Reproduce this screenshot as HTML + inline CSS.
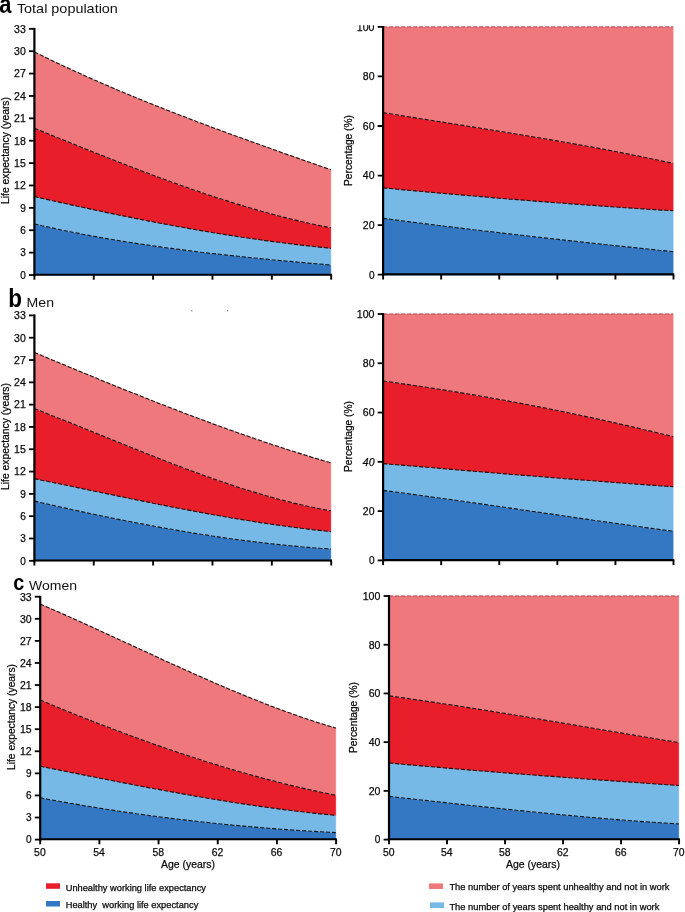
<!DOCTYPE html>
<html lang="en"><head><meta charset="utf-8"><title>Working life expectancy</title>
<style>html,body{margin:0;padding:0;background:#fff}svg{display:block}</style></head><body>
<svg width="685" height="912" viewBox="0 0 685 912">
<rect width="685" height="912" fill="#fff"/>
<polygon points="34.4,224.0 38.1,224.8 41.8,225.7 45.5,226.5 49.2,227.3 52.9,228.1 56.6,228.9 60.3,229.7 64.0,230.5 67.8,231.2 71.5,232.0 75.2,232.7 78.9,233.4 82.6,234.2 86.3,234.9 90.0,235.6 93.7,236.2 97.4,236.9 101.1,237.6 104.8,238.2 108.5,238.9 112.2,239.5 115.9,240.1 119.6,240.7 123.4,241.4 127.1,242.0 130.8,242.5 134.5,243.1 138.2,243.7 141.9,244.2 145.6,244.8 149.3,245.3 153.0,245.9 156.7,246.4 160.4,246.9 164.1,247.4 167.8,248.0 171.5,248.4 175.2,248.9 178.9,249.4 182.7,249.9 186.4,250.4 190.1,250.8 193.8,251.3 197.5,251.7 201.2,252.2 204.9,252.6 208.6,253.1 212.3,253.5 216.0,253.9 219.7,254.3 223.4,254.7 227.1,255.1 230.8,255.5 234.5,255.9 238.2,256.3 242.0,256.7 245.7,257.1 249.4,257.5 253.1,257.9 256.8,258.2 260.5,258.6 264.2,259.0 267.9,259.3 271.6,259.7 275.3,260.0 279.0,260.4 282.7,260.7 286.4,261.1 290.1,261.4 293.8,261.7 297.5,262.1 301.2,262.4 305.0,262.7 308.7,263.1 312.4,263.4 316.1,263.7 319.8,264.0 323.5,264.4 327.2,264.7 330.9,265.0 330.9,275.0 327.2,275.0 323.5,275.0 319.8,275.0 316.1,275.0 312.4,275.0 308.7,275.0 305.0,275.0 301.2,275.0 297.5,275.0 293.8,275.0 290.1,275.0 286.4,275.0 282.7,275.0 279.0,275.0 275.3,275.0 271.6,275.0 267.9,275.0 264.2,275.0 260.5,275.0 256.8,275.0 253.1,275.0 249.4,275.0 245.7,275.0 242.0,275.0 238.2,275.0 234.5,275.0 230.8,275.0 227.1,275.0 223.4,275.0 219.7,275.0 216.0,275.0 212.3,275.0 208.6,275.0 204.9,275.0 201.2,275.0 197.5,275.0 193.8,275.0 190.1,275.0 186.4,275.0 182.7,275.0 178.9,275.0 175.2,275.0 171.5,275.0 167.8,275.0 164.1,275.0 160.4,275.0 156.7,275.0 153.0,275.0 149.3,275.0 145.6,275.0 141.9,275.0 138.2,275.0 134.5,275.0 130.8,275.0 127.1,275.0 123.4,275.0 119.6,275.0 115.9,275.0 112.2,275.0 108.5,275.0 104.8,275.0 101.1,275.0 97.4,275.0 93.7,275.0 90.0,275.0 86.3,275.0 82.6,275.0 78.9,275.0 75.2,275.0 71.5,275.0 67.8,275.0 64.0,275.0 60.3,275.0 56.6,275.0 52.9,275.0 49.2,275.0 45.5,275.0 41.8,275.0 38.1,275.0 34.4,275.0" fill="#3478C3" stroke="#3478C3" stroke-width="0.4"/>
<polygon points="34.4,196.5 38.1,197.4 41.8,198.2 45.5,199.1 49.2,199.9 52.9,200.8 56.6,201.6 60.3,202.4 64.0,203.2 67.8,204.1 71.5,204.9 75.2,205.7 78.9,206.5 82.6,207.3 86.3,208.1 90.0,208.9 93.7,209.7 97.4,210.5 101.1,211.3 104.8,212.1 108.5,212.9 112.2,213.6 115.9,214.4 119.6,215.2 123.4,215.9 127.1,216.7 130.8,217.4 134.5,218.2 138.2,218.9 141.9,219.6 145.6,220.4 149.3,221.1 153.0,221.8 156.7,222.5 160.4,223.2 164.1,223.9 167.8,224.6 171.5,225.3 175.2,226.0 178.9,226.7 182.7,227.3 186.4,228.0 190.1,228.7 193.8,229.3 197.5,230.0 201.2,230.6 204.9,231.2 208.6,231.8 212.3,232.5 216.0,233.1 219.7,233.7 223.4,234.3 227.1,234.9 230.8,235.4 234.5,236.0 238.2,236.6 242.0,237.2 245.7,237.7 249.4,238.3 253.1,238.8 256.8,239.3 260.5,239.8 264.2,240.4 267.9,240.9 271.6,241.4 275.3,241.9 279.0,242.3 282.7,242.8 286.4,243.3 290.1,243.7 293.8,244.2 297.5,244.6 301.2,245.1 305.0,245.5 308.7,245.9 312.4,246.3 316.1,246.7 319.8,247.1 323.5,247.5 327.2,247.9 330.9,248.2 330.9,265.0 327.2,264.7 323.5,264.4 319.8,264.0 316.1,263.7 312.4,263.4 308.7,263.1 305.0,262.7 301.2,262.4 297.5,262.1 293.8,261.7 290.1,261.4 286.4,261.1 282.7,260.7 279.0,260.4 275.3,260.0 271.6,259.7 267.9,259.3 264.2,259.0 260.5,258.6 256.8,258.2 253.1,257.9 249.4,257.5 245.7,257.1 242.0,256.7 238.2,256.3 234.5,255.9 230.8,255.5 227.1,255.1 223.4,254.7 219.7,254.3 216.0,253.9 212.3,253.5 208.6,253.1 204.9,252.6 201.2,252.2 197.5,251.7 193.8,251.3 190.1,250.8 186.4,250.4 182.7,249.9 178.9,249.4 175.2,248.9 171.5,248.4 167.8,248.0 164.1,247.4 160.4,246.9 156.7,246.4 153.0,245.9 149.3,245.3 145.6,244.8 141.9,244.2 138.2,243.7 134.5,243.1 130.8,242.5 127.1,242.0 123.4,241.4 119.6,240.7 115.9,240.1 112.2,239.5 108.5,238.9 104.8,238.2 101.1,237.6 97.4,236.9 93.7,236.2 90.0,235.6 86.3,234.9 82.6,234.2 78.9,233.4 75.2,232.7 71.5,232.0 67.8,231.2 64.0,230.5 60.3,229.7 56.6,228.9 52.9,228.1 49.2,227.3 45.5,226.5 41.8,225.7 38.1,224.8 34.4,224.0" fill="#76B9E7" stroke="#76B9E7" stroke-width="0.4"/>
<polygon points="34.4,128.3 38.1,129.8 41.8,131.3 45.5,132.8 49.2,134.3 52.9,135.8 56.6,137.3 60.3,138.8 64.0,140.3 67.8,141.8 71.5,143.3 75.2,144.8 78.9,146.3 82.6,147.7 86.3,149.2 90.0,150.7 93.7,152.2 97.4,153.7 101.1,155.1 104.8,156.6 108.5,158.1 112.2,159.5 115.9,161.0 119.6,162.4 123.4,163.9 127.1,165.3 130.8,166.7 134.5,168.2 138.2,169.6 141.9,171.0 145.6,172.4 149.3,173.8 153.0,175.2 156.7,176.6 160.4,177.9 164.1,179.3 167.8,180.6 171.5,182.0 175.2,183.3 178.9,184.7 182.7,186.0 186.4,187.3 190.1,188.6 193.8,189.9 197.5,191.1 201.2,192.4 204.9,193.7 208.6,194.9 212.3,196.1 216.0,197.4 219.7,198.6 223.4,199.8 227.1,200.9 230.8,202.1 234.5,203.3 238.2,204.4 242.0,205.5 245.7,206.7 249.4,207.7 253.1,208.8 256.8,209.9 260.5,211.0 264.2,212.0 267.9,213.0 271.6,214.0 275.3,215.0 279.0,216.0 282.7,217.0 286.4,217.9 290.1,218.8 293.8,219.7 297.5,220.6 301.2,221.5 305.0,222.3 308.7,223.2 312.4,224.0 316.1,224.8 319.8,225.6 323.5,226.3 327.2,227.1 330.9,227.8 330.9,248.2 327.2,247.9 323.5,247.5 319.8,247.1 316.1,246.7 312.4,246.3 308.7,245.9 305.0,245.5 301.2,245.1 297.5,244.6 293.8,244.2 290.1,243.7 286.4,243.3 282.7,242.8 279.0,242.3 275.3,241.9 271.6,241.4 267.9,240.9 264.2,240.4 260.5,239.8 256.8,239.3 253.1,238.8 249.4,238.3 245.7,237.7 242.0,237.2 238.2,236.6 234.5,236.0 230.8,235.4 227.1,234.9 223.4,234.3 219.7,233.7 216.0,233.1 212.3,232.5 208.6,231.8 204.9,231.2 201.2,230.6 197.5,230.0 193.8,229.3 190.1,228.7 186.4,228.0 182.7,227.3 178.9,226.7 175.2,226.0 171.5,225.3 167.8,224.6 164.1,223.9 160.4,223.2 156.7,222.5 153.0,221.8 149.3,221.1 145.6,220.4 141.9,219.6 138.2,218.9 134.5,218.2 130.8,217.4 127.1,216.7 123.4,215.9 119.6,215.2 115.9,214.4 112.2,213.6 108.5,212.9 104.8,212.1 101.1,211.3 97.4,210.5 93.7,209.7 90.0,208.9 86.3,208.1 82.6,207.3 78.9,206.5 75.2,205.7 71.5,204.9 67.8,204.1 64.0,203.2 60.3,202.4 56.6,201.6 52.9,200.8 49.2,199.9 45.5,199.1 41.8,198.2 38.1,197.4 34.4,196.5" fill="#E81E2B" stroke="#E81E2B" stroke-width="0.4"/>
<polygon points="34.4,52.0 38.1,53.8 41.8,55.6 45.5,57.4 49.2,59.2 52.9,61.0 56.6,62.7 60.3,64.5 64.0,66.2 67.8,67.9 71.5,69.7 75.2,71.4 78.9,73.0 82.6,74.7 86.3,76.4 90.0,78.0 93.7,79.7 97.4,81.3 101.1,82.9 104.8,84.5 108.5,86.1 112.2,87.7 115.9,89.3 119.6,90.9 123.4,92.4 127.1,94.0 130.8,95.5 134.5,97.1 138.2,98.6 141.9,100.1 145.6,101.6 149.3,103.1 153.0,104.6 156.7,106.1 160.4,107.5 164.1,109.0 167.8,110.4 171.5,111.9 175.2,113.3 178.9,114.8 182.7,116.2 186.4,117.6 190.1,119.0 193.8,120.4 197.5,121.9 201.2,123.2 204.9,124.6 208.6,126.0 212.3,127.4 216.0,128.8 219.7,130.1 223.4,131.5 227.1,132.9 230.8,134.2 234.5,135.6 238.2,136.9 242.0,138.3 245.7,139.6 249.4,141.0 253.1,142.3 256.8,143.6 260.5,144.9 264.2,146.3 267.9,147.6 271.6,148.9 275.3,150.2 279.0,151.5 282.7,152.9 286.4,154.2 290.1,155.5 293.8,156.8 297.5,158.1 301.2,159.4 305.0,160.7 308.7,162.0 312.4,163.3 316.1,164.6 319.8,165.9 323.5,167.2 327.2,168.5 330.9,169.8 330.9,227.8 327.2,227.1 323.5,226.3 319.8,225.6 316.1,224.8 312.4,224.0 308.7,223.2 305.0,222.3 301.2,221.5 297.5,220.6 293.8,219.7 290.1,218.8 286.4,217.9 282.7,217.0 279.0,216.0 275.3,215.0 271.6,214.0 267.9,213.0 264.2,212.0 260.5,211.0 256.8,209.9 253.1,208.8 249.4,207.7 245.7,206.7 242.0,205.5 238.2,204.4 234.5,203.3 230.8,202.1 227.1,200.9 223.4,199.8 219.7,198.6 216.0,197.4 212.3,196.1 208.6,194.9 204.9,193.7 201.2,192.4 197.5,191.1 193.8,189.9 190.1,188.6 186.4,187.3 182.7,186.0 178.9,184.7 175.2,183.3 171.5,182.0 167.8,180.6 164.1,179.3 160.4,177.9 156.7,176.6 153.0,175.2 149.3,173.8 145.6,172.4 141.9,171.0 138.2,169.6 134.5,168.2 130.8,166.7 127.1,165.3 123.4,163.9 119.6,162.4 115.9,161.0 112.2,159.5 108.5,158.1 104.8,156.6 101.1,155.1 97.4,153.7 93.7,152.2 90.0,150.7 86.3,149.2 82.6,147.7 78.9,146.3 75.2,144.8 71.5,143.3 67.8,141.8 64.0,140.3 60.3,138.8 56.6,137.3 52.9,135.8 49.2,134.3 45.5,132.8 41.8,131.3 38.1,129.8 34.4,128.3" fill="#EF787D" stroke="#EF787D" stroke-width="0.4"/>
<polyline points="34.4,224.0 38.1,224.8 41.8,225.7 45.5,226.5 49.2,227.3 52.9,228.1 56.6,228.9 60.3,229.7 64.0,230.5 67.8,231.2 71.5,232.0 75.2,232.7 78.9,233.4 82.6,234.2 86.3,234.9 90.0,235.6 93.7,236.2 97.4,236.9 101.1,237.6 104.8,238.2 108.5,238.9 112.2,239.5 115.9,240.1 119.6,240.7 123.4,241.4 127.1,242.0 130.8,242.5 134.5,243.1 138.2,243.7 141.9,244.2 145.6,244.8 149.3,245.3 153.0,245.9 156.7,246.4 160.4,246.9 164.1,247.4 167.8,248.0 171.5,248.4 175.2,248.9 178.9,249.4 182.7,249.9 186.4,250.4 190.1,250.8 193.8,251.3 197.5,251.7 201.2,252.2 204.9,252.6 208.6,253.1 212.3,253.5 216.0,253.9 219.7,254.3 223.4,254.7 227.1,255.1 230.8,255.5 234.5,255.9 238.2,256.3 242.0,256.7 245.7,257.1 249.4,257.5 253.1,257.9 256.8,258.2 260.5,258.6 264.2,259.0 267.9,259.3 271.6,259.7 275.3,260.0 279.0,260.4 282.7,260.7 286.4,261.1 290.1,261.4 293.8,261.7 297.5,262.1 301.2,262.4 305.0,262.7 308.7,263.1 312.4,263.4 316.1,263.7 319.8,264.0 323.5,264.4 327.2,264.7 330.9,265.0" fill="none" stroke="#111" stroke-width="1.1" stroke-dasharray="4.2 1.8"/>
<polyline points="34.4,196.5 38.1,197.4 41.8,198.2 45.5,199.1 49.2,199.9 52.9,200.8 56.6,201.6 60.3,202.4 64.0,203.2 67.8,204.1 71.5,204.9 75.2,205.7 78.9,206.5 82.6,207.3 86.3,208.1 90.0,208.9 93.7,209.7 97.4,210.5 101.1,211.3 104.8,212.1 108.5,212.9 112.2,213.6 115.9,214.4 119.6,215.2 123.4,215.9 127.1,216.7 130.8,217.4 134.5,218.2 138.2,218.9 141.9,219.6 145.6,220.4 149.3,221.1 153.0,221.8 156.7,222.5 160.4,223.2 164.1,223.9 167.8,224.6 171.5,225.3 175.2,226.0 178.9,226.7 182.7,227.3 186.4,228.0 190.1,228.7 193.8,229.3 197.5,230.0 201.2,230.6 204.9,231.2 208.6,231.8 212.3,232.5 216.0,233.1 219.7,233.7 223.4,234.3 227.1,234.9 230.8,235.4 234.5,236.0 238.2,236.6 242.0,237.2 245.7,237.7 249.4,238.3 253.1,238.8 256.8,239.3 260.5,239.8 264.2,240.4 267.9,240.9 271.6,241.4 275.3,241.9 279.0,242.3 282.7,242.8 286.4,243.3 290.1,243.7 293.8,244.2 297.5,244.6 301.2,245.1 305.0,245.5 308.7,245.9 312.4,246.3 316.1,246.7 319.8,247.1 323.5,247.5 327.2,247.9 330.9,248.2" fill="none" stroke="#111" stroke-width="1.1" stroke-dasharray="4.2 1.8"/>
<polyline points="34.4,128.3 38.1,129.8 41.8,131.3 45.5,132.8 49.2,134.3 52.9,135.8 56.6,137.3 60.3,138.8 64.0,140.3 67.8,141.8 71.5,143.3 75.2,144.8 78.9,146.3 82.6,147.7 86.3,149.2 90.0,150.7 93.7,152.2 97.4,153.7 101.1,155.1 104.8,156.6 108.5,158.1 112.2,159.5 115.9,161.0 119.6,162.4 123.4,163.9 127.1,165.3 130.8,166.7 134.5,168.2 138.2,169.6 141.9,171.0 145.6,172.4 149.3,173.8 153.0,175.2 156.7,176.6 160.4,177.9 164.1,179.3 167.8,180.6 171.5,182.0 175.2,183.3 178.9,184.7 182.7,186.0 186.4,187.3 190.1,188.6 193.8,189.9 197.5,191.1 201.2,192.4 204.9,193.7 208.6,194.9 212.3,196.1 216.0,197.4 219.7,198.6 223.4,199.8 227.1,200.9 230.8,202.1 234.5,203.3 238.2,204.4 242.0,205.5 245.7,206.7 249.4,207.7 253.1,208.8 256.8,209.9 260.5,211.0 264.2,212.0 267.9,213.0 271.6,214.0 275.3,215.0 279.0,216.0 282.7,217.0 286.4,217.9 290.1,218.8 293.8,219.7 297.5,220.6 301.2,221.5 305.0,222.3 308.7,223.2 312.4,224.0 316.1,224.8 319.8,225.6 323.5,226.3 327.2,227.1 330.9,227.8" fill="none" stroke="#111" stroke-width="1.1" stroke-dasharray="4.2 1.8"/>
<polyline points="34.4,52.0 38.1,53.8 41.8,55.6 45.5,57.4 49.2,59.2 52.9,61.0 56.6,62.7 60.3,64.5 64.0,66.2 67.8,67.9 71.5,69.7 75.2,71.4 78.9,73.0 82.6,74.7 86.3,76.4 90.0,78.0 93.7,79.7 97.4,81.3 101.1,82.9 104.8,84.5 108.5,86.1 112.2,87.7 115.9,89.3 119.6,90.9 123.4,92.4 127.1,94.0 130.8,95.5 134.5,97.1 138.2,98.6 141.9,100.1 145.6,101.6 149.3,103.1 153.0,104.6 156.7,106.1 160.4,107.5 164.1,109.0 167.8,110.4 171.5,111.9 175.2,113.3 178.9,114.8 182.7,116.2 186.4,117.6 190.1,119.0 193.8,120.4 197.5,121.9 201.2,123.2 204.9,124.6 208.6,126.0 212.3,127.4 216.0,128.8 219.7,130.1 223.4,131.5 227.1,132.9 230.8,134.2 234.5,135.6 238.2,136.9 242.0,138.3 245.7,139.6 249.4,141.0 253.1,142.3 256.8,143.6 260.5,144.9 264.2,146.3 267.9,147.6 271.6,148.9 275.3,150.2 279.0,151.5 282.7,152.9 286.4,154.2 290.1,155.5 293.8,156.8 297.5,158.1 301.2,159.4 305.0,160.7 308.7,162.0 312.4,163.3 316.1,164.6 319.8,165.9 323.5,167.2 327.2,168.5 330.9,169.8" fill="none" stroke="#111" stroke-width="1.1" stroke-dasharray="4.2 1.8"/>
<line x1="34.40" y1="27.92" x2="34.40" y2="276.30" stroke="#000" stroke-width="2.2"/>
<line x1="33.30" y1="274.70" x2="332.00" y2="274.70" stroke="#000" stroke-width="2.1"/>
<line x1="29.00" y1="275.00" x2="34.40" y2="275.00" stroke="#000" stroke-width="1.8"/>
<text x="25.80" y="278.85" text-anchor="end" font-size="10.8" font-family="Liberation Sans, sans-serif" textLength="5.6" lengthAdjust="spacingAndGlyphs" fill="#0a0a0a" stroke="#0a0a0a" stroke-width="0.25">0</text>
<line x1="29.00" y1="252.62" x2="34.40" y2="252.62" stroke="#000" stroke-width="1.8"/>
<text x="25.80" y="256.47" text-anchor="end" font-size="10.8" font-family="Liberation Sans, sans-serif" textLength="5.6" lengthAdjust="spacingAndGlyphs" fill="#0a0a0a" stroke="#0a0a0a" stroke-width="0.25">3</text>
<line x1="29.00" y1="230.24" x2="34.40" y2="230.24" stroke="#000" stroke-width="1.8"/>
<text x="25.80" y="234.09" text-anchor="end" font-size="10.8" font-family="Liberation Sans, sans-serif" textLength="5.6" lengthAdjust="spacingAndGlyphs" fill="#0a0a0a" stroke="#0a0a0a" stroke-width="0.25">6</text>
<line x1="29.00" y1="207.86" x2="34.40" y2="207.86" stroke="#000" stroke-width="1.8"/>
<text x="25.80" y="211.71" text-anchor="end" font-size="10.8" font-family="Liberation Sans, sans-serif" textLength="5.6" lengthAdjust="spacingAndGlyphs" fill="#0a0a0a" stroke="#0a0a0a" stroke-width="0.25">9</text>
<line x1="29.00" y1="185.48" x2="34.40" y2="185.48" stroke="#000" stroke-width="1.8"/>
<text x="25.80" y="189.33" text-anchor="end" font-size="10.8" font-family="Liberation Sans, sans-serif" textLength="11.7" lengthAdjust="spacingAndGlyphs" fill="#0a0a0a" stroke="#0a0a0a" stroke-width="0.25">12</text>
<line x1="29.00" y1="163.10" x2="34.40" y2="163.10" stroke="#000" stroke-width="1.8"/>
<text x="25.80" y="166.95" text-anchor="end" font-size="10.8" font-family="Liberation Sans, sans-serif" textLength="11.7" lengthAdjust="spacingAndGlyphs" fill="#0a0a0a" stroke="#0a0a0a" stroke-width="0.25">15</text>
<line x1="29.00" y1="140.72" x2="34.40" y2="140.72" stroke="#000" stroke-width="1.8"/>
<text x="25.80" y="144.57" text-anchor="end" font-size="10.8" font-family="Liberation Sans, sans-serif" textLength="11.7" lengthAdjust="spacingAndGlyphs" fill="#0a0a0a" stroke="#0a0a0a" stroke-width="0.25">18</text>
<line x1="29.00" y1="118.34" x2="34.40" y2="118.34" stroke="#000" stroke-width="1.8"/>
<text x="25.80" y="122.19" text-anchor="end" font-size="10.8" font-family="Liberation Sans, sans-serif" textLength="11.7" lengthAdjust="spacingAndGlyphs" fill="#0a0a0a" stroke="#0a0a0a" stroke-width="0.25">21</text>
<line x1="29.00" y1="95.96" x2="34.40" y2="95.96" stroke="#000" stroke-width="1.8"/>
<text x="25.80" y="99.81" text-anchor="end" font-size="10.8" font-family="Liberation Sans, sans-serif" textLength="11.7" lengthAdjust="spacingAndGlyphs" fill="#0a0a0a" stroke="#0a0a0a" stroke-width="0.25">24</text>
<line x1="29.00" y1="73.58" x2="34.40" y2="73.58" stroke="#000" stroke-width="1.8"/>
<text x="25.80" y="77.43" text-anchor="end" font-size="10.8" font-family="Liberation Sans, sans-serif" textLength="11.7" lengthAdjust="spacingAndGlyphs" fill="#0a0a0a" stroke="#0a0a0a" stroke-width="0.25">27</text>
<line x1="29.00" y1="51.20" x2="34.40" y2="51.20" stroke="#000" stroke-width="1.8"/>
<text x="25.80" y="55.05" text-anchor="end" font-size="10.8" font-family="Liberation Sans, sans-serif" textLength="11.7" lengthAdjust="spacingAndGlyphs" fill="#0a0a0a" stroke="#0a0a0a" stroke-width="0.25">30</text>
<line x1="29.00" y1="28.82" x2="34.40" y2="28.82" stroke="#000" stroke-width="1.8"/>
<text x="25.80" y="32.67" text-anchor="end" font-size="10.8" font-family="Liberation Sans, sans-serif" textLength="11.7" lengthAdjust="spacingAndGlyphs" fill="#0a0a0a" stroke="#0a0a0a" stroke-width="0.25">33</text>
<line x1="34.40" y1="275.00" x2="34.40" y2="279.70" stroke="#000" stroke-width="1.9"/>
<line x1="93.76" y1="275.00" x2="93.76" y2="279.70" stroke="#000" stroke-width="1.9"/>
<line x1="153.12" y1="275.00" x2="153.12" y2="279.70" stroke="#000" stroke-width="1.9"/>
<line x1="212.48" y1="275.00" x2="212.48" y2="279.70" stroke="#000" stroke-width="1.9"/>
<line x1="271.84" y1="275.00" x2="271.84" y2="279.70" stroke="#000" stroke-width="1.9"/>
<line x1="331.20" y1="275.00" x2="331.20" y2="279.70" stroke="#000" stroke-width="1.9"/>
<text transform="translate(9.2,150.50) rotate(-90)" text-anchor="middle" font-size="10.2" font-family="Liberation Sans, sans-serif" textLength="107" lengthAdjust="spacingAndGlyphs" fill="#0a0a0a" stroke="#0a0a0a" stroke-width="0.25">Life expectancy (years)</text>
<clipPath id="clipA"><rect x="340" y="25.3" width="345" height="300"/></clipPath>
<g clip-path="url(#clipA)">
<polygon points="383.1,218.4 386.7,218.8 390.4,219.3 394.0,219.8 397.6,220.2 401.2,220.7 404.9,221.2 408.5,221.6 412.1,222.1 415.7,222.5 419.4,223.0 423.0,223.5 426.6,223.9 430.2,224.4 433.9,224.8 437.5,225.3 441.1,225.7 444.7,226.2 448.4,226.6 452.0,227.0 455.6,227.5 459.3,227.9 462.9,228.4 466.5,228.8 470.1,229.2 473.8,229.7 477.4,230.1 481.0,230.5 484.6,231.0 488.3,231.4 491.9,231.8 495.5,232.2 499.1,232.7 502.8,233.1 506.4,233.5 510.0,233.9 513.6,234.4 517.3,234.8 520.9,235.2 524.5,235.6 528.2,236.0 531.8,236.4 535.4,236.9 539.0,237.3 542.7,237.7 546.3,238.1 549.9,238.5 553.5,238.9 557.2,239.3 560.8,239.7 564.4,240.1 568.0,240.5 571.7,240.9 575.3,241.3 578.9,241.7 582.5,242.1 586.2,242.5 589.8,242.9 593.4,243.3 597.0,243.7 600.7,244.1 604.3,244.5 607.9,244.8 611.6,245.2 615.2,245.6 618.8,246.0 622.4,246.4 626.1,246.8 629.7,247.1 633.3,247.5 636.9,247.9 640.6,248.3 644.2,248.7 647.8,249.0 651.4,249.4 655.1,249.8 658.7,250.2 662.3,250.5 665.9,250.9 669.6,251.3 673.2,251.7 673.2,274.7 669.6,274.7 665.9,274.7 662.3,274.7 658.7,274.7 655.1,274.7 651.4,274.7 647.8,274.7 644.2,274.7 640.6,274.7 636.9,274.7 633.3,274.7 629.7,274.7 626.1,274.7 622.4,274.7 618.8,274.7 615.2,274.7 611.6,274.7 607.9,274.7 604.3,274.7 600.7,274.7 597.0,274.7 593.4,274.7 589.8,274.7 586.2,274.7 582.5,274.7 578.9,274.7 575.3,274.7 571.7,274.7 568.0,274.7 564.4,274.7 560.8,274.7 557.2,274.7 553.5,274.7 549.9,274.7 546.3,274.7 542.7,274.7 539.0,274.7 535.4,274.7 531.8,274.7 528.2,274.7 524.5,274.7 520.9,274.7 517.3,274.7 513.6,274.7 510.0,274.7 506.4,274.7 502.8,274.7 499.1,274.7 495.5,274.7 491.9,274.7 488.3,274.7 484.6,274.7 481.0,274.7 477.4,274.7 473.8,274.7 470.1,274.7 466.5,274.7 462.9,274.7 459.3,274.7 455.6,274.7 452.0,274.7 448.4,274.7 444.7,274.7 441.1,274.7 437.5,274.7 433.9,274.7 430.2,274.7 426.6,274.7 423.0,274.7 419.4,274.7 415.7,274.7 412.1,274.7 408.5,274.7 404.9,274.7 401.2,274.7 397.6,274.7 394.0,274.7 390.4,274.7 386.7,274.7 383.1,274.7" fill="#3478C3" stroke="#3478C3" stroke-width="0.4"/>
<polygon points="383.1,187.9 386.7,188.2 390.4,188.5 394.0,188.9 397.6,189.2 401.2,189.6 404.9,189.9 408.5,190.2 412.1,190.6 415.7,190.9 419.4,191.2 423.0,191.5 426.6,191.9 430.2,192.2 433.9,192.5 437.5,192.9 441.1,193.2 444.7,193.5 448.4,193.8 452.0,194.1 455.6,194.5 459.3,194.8 462.9,195.1 466.5,195.4 470.1,195.7 473.8,196.0 477.4,196.3 481.0,196.6 484.6,196.9 488.3,197.3 491.9,197.6 495.5,197.9 499.1,198.2 502.8,198.5 506.4,198.8 510.0,199.1 513.6,199.3 517.3,199.6 520.9,199.9 524.5,200.2 528.2,200.5 531.8,200.8 535.4,201.1 539.0,201.4 542.7,201.7 546.3,201.9 549.9,202.2 553.5,202.5 557.2,202.8 560.8,203.0 564.4,203.3 568.0,203.6 571.7,203.9 575.3,204.1 578.9,204.4 582.5,204.7 586.2,204.9 589.8,205.2 593.4,205.4 597.0,205.7 600.7,206.0 604.3,206.2 607.9,206.5 611.6,206.7 615.2,207.0 618.8,207.2 622.4,207.5 626.1,207.7 629.7,208.0 633.3,208.2 636.9,208.5 640.6,208.7 644.2,208.9 647.8,209.2 651.4,209.4 655.1,209.6 658.7,209.9 662.3,210.1 665.9,210.3 669.6,210.5 673.2,210.8 673.2,251.7 669.6,251.3 665.9,250.9 662.3,250.5 658.7,250.2 655.1,249.8 651.4,249.4 647.8,249.0 644.2,248.7 640.6,248.3 636.9,247.9 633.3,247.5 629.7,247.1 626.1,246.8 622.4,246.4 618.8,246.0 615.2,245.6 611.6,245.2 607.9,244.8 604.3,244.5 600.7,244.1 597.0,243.7 593.4,243.3 589.8,242.9 586.2,242.5 582.5,242.1 578.9,241.7 575.3,241.3 571.7,240.9 568.0,240.5 564.4,240.1 560.8,239.7 557.2,239.3 553.5,238.9 549.9,238.5 546.3,238.1 542.7,237.7 539.0,237.3 535.4,236.9 531.8,236.4 528.2,236.0 524.5,235.6 520.9,235.2 517.3,234.8 513.6,234.4 510.0,233.9 506.4,233.5 502.8,233.1 499.1,232.7 495.5,232.2 491.9,231.8 488.3,231.4 484.6,231.0 481.0,230.5 477.4,230.1 473.8,229.7 470.1,229.2 466.5,228.8 462.9,228.4 459.3,227.9 455.6,227.5 452.0,227.0 448.4,226.6 444.7,226.2 441.1,225.7 437.5,225.3 433.9,224.8 430.2,224.4 426.6,223.9 423.0,223.5 419.4,223.0 415.7,222.5 412.1,222.1 408.5,221.6 404.9,221.2 401.2,220.7 397.6,220.2 394.0,219.8 390.4,219.3 386.7,218.8 383.1,218.4" fill="#76B9E7" stroke="#76B9E7" stroke-width="0.4"/>
<polygon points="383.1,112.6 386.7,113.2 390.4,113.8 394.0,114.4 397.6,115.0 401.2,115.6 404.9,116.2 408.5,116.7 412.1,117.3 415.7,117.9 419.4,118.5 423.0,119.1 426.6,119.6 430.2,120.2 433.9,120.8 437.5,121.4 441.1,121.9 444.7,122.5 448.4,123.1 452.0,123.7 455.6,124.2 459.3,124.8 462.9,125.4 466.5,126.0 470.1,126.6 473.8,127.1 477.4,127.7 481.0,128.3 484.6,128.9 488.3,129.5 491.9,130.0 495.5,130.6 499.1,131.2 502.8,131.8 506.4,132.4 510.0,133.0 513.6,133.6 517.3,134.2 520.9,134.8 524.5,135.4 528.2,136.0 531.8,136.6 535.4,137.2 539.0,137.8 542.7,138.4 546.3,139.0 549.9,139.6 553.5,140.3 557.2,140.9 560.8,141.5 564.4,142.2 568.0,142.8 571.7,143.4 575.3,144.1 578.9,144.7 582.5,145.4 586.2,146.0 589.8,146.7 593.4,147.4 597.0,148.0 600.7,148.7 604.3,149.4 607.9,150.1 611.6,150.8 615.2,151.5 618.8,152.2 622.4,152.9 626.1,153.6 629.7,154.3 633.3,155.1 636.9,155.8 640.6,156.5 644.2,157.3 647.8,158.0 651.4,158.8 655.1,159.5 658.7,160.3 662.3,161.1 665.9,161.9 669.6,162.6 673.2,163.4 673.2,210.8 669.6,210.5 665.9,210.3 662.3,210.1 658.7,209.9 655.1,209.6 651.4,209.4 647.8,209.2 644.2,208.9 640.6,208.7 636.9,208.5 633.3,208.2 629.7,208.0 626.1,207.7 622.4,207.5 618.8,207.2 615.2,207.0 611.6,206.7 607.9,206.5 604.3,206.2 600.7,206.0 597.0,205.7 593.4,205.4 589.8,205.2 586.2,204.9 582.5,204.7 578.9,204.4 575.3,204.1 571.7,203.9 568.0,203.6 564.4,203.3 560.8,203.0 557.2,202.8 553.5,202.5 549.9,202.2 546.3,201.9 542.7,201.7 539.0,201.4 535.4,201.1 531.8,200.8 528.2,200.5 524.5,200.2 520.9,199.9 517.3,199.6 513.6,199.3 510.0,199.1 506.4,198.8 502.8,198.5 499.1,198.2 495.5,197.9 491.9,197.6 488.3,197.3 484.6,196.9 481.0,196.6 477.4,196.3 473.8,196.0 470.1,195.7 466.5,195.4 462.9,195.1 459.3,194.8 455.6,194.5 452.0,194.1 448.4,193.8 444.7,193.5 441.1,193.2 437.5,192.9 433.9,192.5 430.2,192.2 426.6,191.9 423.0,191.5 419.4,191.2 415.7,190.9 412.1,190.6 408.5,190.2 404.9,189.9 401.2,189.6 397.6,189.2 394.0,188.9 390.4,188.5 386.7,188.2 383.1,187.9" fill="#E81E2B" stroke="#E81E2B" stroke-width="0.4"/>
<polygon points="383.1,26.9 386.7,26.9 390.4,26.9 394.0,26.9 397.6,26.9 401.2,26.9 404.9,26.9 408.5,26.9 412.1,26.9 415.7,26.9 419.4,26.9 423.0,26.9 426.6,26.9 430.2,26.9 433.9,26.9 437.5,26.9 441.1,26.9 444.7,26.9 448.4,26.9 452.0,26.9 455.6,26.9 459.3,26.9 462.9,26.9 466.5,26.9 470.1,26.9 473.8,26.9 477.4,26.9 481.0,26.9 484.6,26.9 488.3,26.9 491.9,26.9 495.5,26.9 499.1,26.9 502.8,26.9 506.4,26.9 510.0,26.9 513.6,26.9 517.3,26.9 520.9,26.9 524.5,26.9 528.2,26.9 531.8,26.9 535.4,26.9 539.0,26.9 542.7,26.9 546.3,26.9 549.9,26.9 553.5,26.9 557.2,26.9 560.8,26.9 564.4,26.9 568.0,26.9 571.7,26.9 575.3,26.9 578.9,26.9 582.5,26.9 586.2,26.9 589.8,26.9 593.4,26.9 597.0,26.9 600.7,26.9 604.3,26.9 607.9,26.9 611.6,26.9 615.2,26.9 618.8,26.9 622.4,26.9 626.1,26.9 629.7,26.9 633.3,26.9 636.9,26.9 640.6,26.9 644.2,26.9 647.8,26.9 651.4,26.9 655.1,26.9 658.7,26.9 662.3,26.9 665.9,26.9 669.6,26.9 673.2,26.9 673.2,163.4 669.6,162.6 665.9,161.9 662.3,161.1 658.7,160.3 655.1,159.5 651.4,158.8 647.8,158.0 644.2,157.3 640.6,156.5 636.9,155.8 633.3,155.1 629.7,154.3 626.1,153.6 622.4,152.9 618.8,152.2 615.2,151.5 611.6,150.8 607.9,150.1 604.3,149.4 600.7,148.7 597.0,148.0 593.4,147.4 589.8,146.7 586.2,146.0 582.5,145.4 578.9,144.7 575.3,144.1 571.7,143.4 568.0,142.8 564.4,142.2 560.8,141.5 557.2,140.9 553.5,140.3 549.9,139.6 546.3,139.0 542.7,138.4 539.0,137.8 535.4,137.2 531.8,136.6 528.2,136.0 524.5,135.4 520.9,134.8 517.3,134.2 513.6,133.6 510.0,133.0 506.4,132.4 502.8,131.8 499.1,131.2 495.5,130.6 491.9,130.0 488.3,129.5 484.6,128.9 481.0,128.3 477.4,127.7 473.8,127.1 470.1,126.6 466.5,126.0 462.9,125.4 459.3,124.8 455.6,124.2 452.0,123.7 448.4,123.1 444.7,122.5 441.1,121.9 437.5,121.4 433.9,120.8 430.2,120.2 426.6,119.6 423.0,119.1 419.4,118.5 415.7,117.9 412.1,117.3 408.5,116.7 404.9,116.2 401.2,115.6 397.6,115.0 394.0,114.4 390.4,113.8 386.7,113.2 383.1,112.6" fill="#EF787D" stroke="#EF787D" stroke-width="0.4"/>
<polyline points="383.1,218.4 386.7,218.8 390.4,219.3 394.0,219.8 397.6,220.2 401.2,220.7 404.9,221.2 408.5,221.6 412.1,222.1 415.7,222.5 419.4,223.0 423.0,223.5 426.6,223.9 430.2,224.4 433.9,224.8 437.5,225.3 441.1,225.7 444.7,226.2 448.4,226.6 452.0,227.0 455.6,227.5 459.3,227.9 462.9,228.4 466.5,228.8 470.1,229.2 473.8,229.7 477.4,230.1 481.0,230.5 484.6,231.0 488.3,231.4 491.9,231.8 495.5,232.2 499.1,232.7 502.8,233.1 506.4,233.5 510.0,233.9 513.6,234.4 517.3,234.8 520.9,235.2 524.5,235.6 528.2,236.0 531.8,236.4 535.4,236.9 539.0,237.3 542.7,237.7 546.3,238.1 549.9,238.5 553.5,238.9 557.2,239.3 560.8,239.7 564.4,240.1 568.0,240.5 571.7,240.9 575.3,241.3 578.9,241.7 582.5,242.1 586.2,242.5 589.8,242.9 593.4,243.3 597.0,243.7 600.7,244.1 604.3,244.5 607.9,244.8 611.6,245.2 615.2,245.6 618.8,246.0 622.4,246.4 626.1,246.8 629.7,247.1 633.3,247.5 636.9,247.9 640.6,248.3 644.2,248.7 647.8,249.0 651.4,249.4 655.1,249.8 658.7,250.2 662.3,250.5 665.9,250.9 669.6,251.3 673.2,251.7" fill="none" stroke="#111" stroke-width="1.1" stroke-dasharray="4.2 1.8"/>
<polyline points="383.1,187.9 386.7,188.2 390.4,188.5 394.0,188.9 397.6,189.2 401.2,189.6 404.9,189.9 408.5,190.2 412.1,190.6 415.7,190.9 419.4,191.2 423.0,191.5 426.6,191.9 430.2,192.2 433.9,192.5 437.5,192.9 441.1,193.2 444.7,193.5 448.4,193.8 452.0,194.1 455.6,194.5 459.3,194.8 462.9,195.1 466.5,195.4 470.1,195.7 473.8,196.0 477.4,196.3 481.0,196.6 484.6,196.9 488.3,197.3 491.9,197.6 495.5,197.9 499.1,198.2 502.8,198.5 506.4,198.8 510.0,199.1 513.6,199.3 517.3,199.6 520.9,199.9 524.5,200.2 528.2,200.5 531.8,200.8 535.4,201.1 539.0,201.4 542.7,201.7 546.3,201.9 549.9,202.2 553.5,202.5 557.2,202.8 560.8,203.0 564.4,203.3 568.0,203.6 571.7,203.9 575.3,204.1 578.9,204.4 582.5,204.7 586.2,204.9 589.8,205.2 593.4,205.4 597.0,205.7 600.7,206.0 604.3,206.2 607.9,206.5 611.6,206.7 615.2,207.0 618.8,207.2 622.4,207.5 626.1,207.7 629.7,208.0 633.3,208.2 636.9,208.5 640.6,208.7 644.2,208.9 647.8,209.2 651.4,209.4 655.1,209.6 658.7,209.9 662.3,210.1 665.9,210.3 669.6,210.5 673.2,210.8" fill="none" stroke="#111" stroke-width="1.1" stroke-dasharray="4.2 1.8"/>
<polyline points="383.1,112.6 386.7,113.2 390.4,113.8 394.0,114.4 397.6,115.0 401.2,115.6 404.9,116.2 408.5,116.7 412.1,117.3 415.7,117.9 419.4,118.5 423.0,119.1 426.6,119.6 430.2,120.2 433.9,120.8 437.5,121.4 441.1,121.9 444.7,122.5 448.4,123.1 452.0,123.7 455.6,124.2 459.3,124.8 462.9,125.4 466.5,126.0 470.1,126.6 473.8,127.1 477.4,127.7 481.0,128.3 484.6,128.9 488.3,129.5 491.9,130.0 495.5,130.6 499.1,131.2 502.8,131.8 506.4,132.4 510.0,133.0 513.6,133.6 517.3,134.2 520.9,134.8 524.5,135.4 528.2,136.0 531.8,136.6 535.4,137.2 539.0,137.8 542.7,138.4 546.3,139.0 549.9,139.6 553.5,140.3 557.2,140.9 560.8,141.5 564.4,142.2 568.0,142.8 571.7,143.4 575.3,144.1 578.9,144.7 582.5,145.4 586.2,146.0 589.8,146.7 593.4,147.4 597.0,148.0 600.7,148.7 604.3,149.4 607.9,150.1 611.6,150.8 615.2,151.5 618.8,152.2 622.4,152.9 626.1,153.6 629.7,154.3 633.3,155.1 636.9,155.8 640.6,156.5 644.2,157.3 647.8,158.0 651.4,158.8 655.1,159.5 658.7,160.3 662.3,161.1 665.9,161.9 669.6,162.6 673.2,163.4" fill="none" stroke="#111" stroke-width="1.1" stroke-dasharray="4.2 1.8"/>
<polyline points="383.1,26.9 386.7,26.9 390.4,26.9 394.0,26.9 397.6,26.9 401.2,26.9 404.9,26.9 408.5,26.9 412.1,26.9 415.7,26.9 419.4,26.9 423.0,26.9 426.6,26.9 430.2,26.9 433.9,26.9 437.5,26.9 441.1,26.9 444.7,26.9 448.4,26.9 452.0,26.9 455.6,26.9 459.3,26.9 462.9,26.9 466.5,26.9 470.1,26.9 473.8,26.9 477.4,26.9 481.0,26.9 484.6,26.9 488.3,26.9 491.9,26.9 495.5,26.9 499.1,26.9 502.8,26.9 506.4,26.9 510.0,26.9 513.6,26.9 517.3,26.9 520.9,26.9 524.5,26.9 528.2,26.9 531.8,26.9 535.4,26.9 539.0,26.9 542.7,26.9 546.3,26.9 549.9,26.9 553.5,26.9 557.2,26.9 560.8,26.9 564.4,26.9 568.0,26.9 571.7,26.9 575.3,26.9 578.9,26.9 582.5,26.9 586.2,26.9 589.8,26.9 593.4,26.9 597.0,26.9 600.7,26.9 604.3,26.9 607.9,26.9 611.6,26.9 615.2,26.9 618.8,26.9 622.4,26.9 626.1,26.9 629.7,26.9 633.3,26.9 636.9,26.9 640.6,26.9 644.2,26.9 647.8,26.9 651.4,26.9 655.1,26.9 658.7,26.9 662.3,26.9 665.9,26.9 669.6,26.9 673.2,26.9" fill="none" stroke="#a84e58" stroke-width="1" stroke-dasharray="4.2 1.8"/>
<line x1="383.10" y1="26.00" x2="383.10" y2="276.00" stroke="#000" stroke-width="2.2"/>
<line x1="382.00" y1="274.40" x2="674.30" y2="274.40" stroke="#000" stroke-width="2.1"/>
<line x1="377.70" y1="274.70" x2="383.10" y2="274.70" stroke="#000" stroke-width="1.8"/>
<text x="374.50" y="278.55" text-anchor="end" font-size="10.8" font-family="Liberation Sans, sans-serif" textLength="5.6" lengthAdjust="spacingAndGlyphs" fill="#0a0a0a" stroke="#0a0a0a" stroke-width="0.25">0</text>
<line x1="377.70" y1="225.14" x2="383.10" y2="225.14" stroke="#000" stroke-width="1.8"/>
<text x="374.50" y="228.99" text-anchor="end" font-size="10.8" font-family="Liberation Sans, sans-serif" textLength="11.7" lengthAdjust="spacingAndGlyphs" fill="#0a0a0a" stroke="#0a0a0a" stroke-width="0.25">20</text>
<line x1="377.70" y1="175.58" x2="383.10" y2="175.58" stroke="#000" stroke-width="1.8"/>
<text x="374.50" y="179.43" text-anchor="end" font-size="10.8" font-family="Liberation Sans, sans-serif" textLength="11.7" lengthAdjust="spacingAndGlyphs" fill="#0a0a0a" stroke="#0a0a0a" stroke-width="0.25">40</text>
<line x1="377.70" y1="126.02" x2="383.10" y2="126.02" stroke="#000" stroke-width="1.8"/>
<text x="374.50" y="129.87" text-anchor="end" font-size="10.8" font-family="Liberation Sans, sans-serif" textLength="11.7" lengthAdjust="spacingAndGlyphs" fill="#0a0a0a" stroke="#0a0a0a" stroke-width="0.25">60</text>
<line x1="377.70" y1="76.46" x2="383.10" y2="76.46" stroke="#000" stroke-width="1.8"/>
<text x="374.50" y="80.31" text-anchor="end" font-size="10.8" font-family="Liberation Sans, sans-serif" textLength="11.7" lengthAdjust="spacingAndGlyphs" fill="#0a0a0a" stroke="#0a0a0a" stroke-width="0.25">80</text>
<line x1="377.70" y1="26.90" x2="383.10" y2="26.90" stroke="#000" stroke-width="1.8"/>
<text x="374.50" y="30.75" text-anchor="end" font-size="10.8" font-family="Liberation Sans, sans-serif" textLength="17.7" lengthAdjust="spacingAndGlyphs" fill="#0a0a0a" stroke="#0a0a0a" stroke-width="0.25">100</text>
<line x1="383.10" y1="274.70" x2="383.10" y2="279.40" stroke="#000" stroke-width="1.9"/>
<line x1="441.18" y1="274.70" x2="441.18" y2="279.40" stroke="#000" stroke-width="1.9"/>
<line x1="499.26" y1="274.70" x2="499.26" y2="279.40" stroke="#000" stroke-width="1.9"/>
<line x1="557.34" y1="274.70" x2="557.34" y2="279.40" stroke="#000" stroke-width="1.9"/>
<line x1="615.42" y1="274.70" x2="615.42" y2="279.40" stroke="#000" stroke-width="1.9"/>
<line x1="673.50" y1="274.70" x2="673.50" y2="279.40" stroke="#000" stroke-width="1.9"/>
<text transform="translate(352.1,150.50) rotate(-90)" text-anchor="middle" font-size="10.2" font-family="Liberation Sans, sans-serif" textLength="71" lengthAdjust="spacingAndGlyphs" fill="#0a0a0a" stroke="#0a0a0a" stroke-width="0.25">Percentage (%)</text>
</g>
<polygon points="34.4,501.1 38.1,501.9 41.8,502.8 45.5,503.6 49.2,504.5 52.9,505.3 56.6,506.2 60.3,507.0 64.0,507.8 67.8,508.6 71.5,509.5 75.2,510.3 78.9,511.1 82.6,511.9 86.3,512.7 90.0,513.5 93.7,514.2 97.4,515.0 101.1,515.8 104.8,516.6 108.5,517.3 112.2,518.1 115.9,518.8 119.6,519.6 123.4,520.3 127.1,521.1 130.8,521.8 134.5,522.5 138.2,523.2 141.9,523.9 145.6,524.6 149.3,525.3 153.0,526.0 156.7,526.7 160.4,527.4 164.1,528.0 167.8,528.7 171.5,529.3 175.2,530.0 178.9,530.6 182.7,531.2 186.4,531.9 190.1,532.5 193.8,533.1 197.5,533.7 201.2,534.3 204.9,534.8 208.6,535.4 212.3,536.0 216.0,536.5 219.7,537.1 223.4,537.6 227.1,538.2 230.8,538.7 234.5,539.2 238.2,539.7 242.0,540.2 245.7,540.7 249.4,541.1 253.1,541.6 256.8,542.1 260.5,542.5 264.2,542.9 267.9,543.4 271.6,543.8 275.3,544.2 279.0,544.6 282.7,545.0 286.4,545.4 290.1,545.7 293.8,546.1 297.5,546.4 301.2,546.8 305.0,547.1 308.7,547.4 312.4,547.7 316.1,548.0 319.8,548.3 323.5,548.5 327.2,548.8 330.9,549.0 330.9,560.8 327.2,560.8 323.5,560.8 319.8,560.8 316.1,560.8 312.4,560.8 308.7,560.8 305.0,560.8 301.2,560.8 297.5,560.8 293.8,560.8 290.1,560.8 286.4,560.8 282.7,560.8 279.0,560.8 275.3,560.8 271.6,560.8 267.9,560.8 264.2,560.8 260.5,560.8 256.8,560.8 253.1,560.8 249.4,560.8 245.7,560.8 242.0,560.8 238.2,560.8 234.5,560.8 230.8,560.8 227.1,560.8 223.4,560.8 219.7,560.8 216.0,560.8 212.3,560.8 208.6,560.8 204.9,560.8 201.2,560.8 197.5,560.8 193.8,560.8 190.1,560.8 186.4,560.8 182.7,560.8 178.9,560.8 175.2,560.8 171.5,560.8 167.8,560.8 164.1,560.8 160.4,560.8 156.7,560.8 153.0,560.8 149.3,560.8 145.6,560.8 141.9,560.8 138.2,560.8 134.5,560.8 130.8,560.8 127.1,560.8 123.4,560.8 119.6,560.8 115.9,560.8 112.2,560.8 108.5,560.8 104.8,560.8 101.1,560.8 97.4,560.8 93.7,560.8 90.0,560.8 86.3,560.8 82.6,560.8 78.9,560.8 75.2,560.8 71.5,560.8 67.8,560.8 64.0,560.8 60.3,560.8 56.6,560.8 52.9,560.8 49.2,560.8 45.5,560.8 41.8,560.8 38.1,560.8 34.4,560.8" fill="#3478C3" stroke="#3478C3" stroke-width="0.4"/>
<polygon points="34.4,478.6 38.1,479.4 41.8,480.2 45.5,480.9 49.2,481.7 52.9,482.5 56.6,483.2 60.3,484.0 64.0,484.8 67.8,485.5 71.5,486.3 75.2,487.1 78.9,487.9 82.6,488.6 86.3,489.4 90.0,490.2 93.7,491.0 97.4,491.7 101.1,492.5 104.8,493.3 108.5,494.1 112.2,494.8 115.9,495.6 119.6,496.4 123.4,497.1 127.1,497.9 130.8,498.7 134.5,499.4 138.2,500.2 141.9,500.9 145.6,501.7 149.3,502.4 153.0,503.2 156.7,503.9 160.4,504.7 164.1,505.4 167.8,506.1 171.5,506.9 175.2,507.6 178.9,508.3 182.7,509.0 186.4,509.7 190.1,510.4 193.8,511.1 197.5,511.8 201.2,512.5 204.9,513.2 208.6,513.9 212.3,514.5 216.0,515.2 219.7,515.8 223.4,516.5 227.1,517.1 230.8,517.8 234.5,518.4 238.2,519.0 242.0,519.6 245.7,520.2 249.4,520.8 253.1,521.4 256.8,522.0 260.5,522.6 264.2,523.1 267.9,523.7 271.6,524.2 275.3,524.8 279.0,525.3 282.7,525.8 286.4,526.3 290.1,526.8 293.8,527.3 297.5,527.8 301.2,528.2 305.0,528.7 308.7,529.1 312.4,529.6 316.1,530.0 319.8,530.4 323.5,530.8 327.2,531.2 330.9,531.6 330.9,549.0 327.2,548.8 323.5,548.5 319.8,548.3 316.1,548.0 312.4,547.7 308.7,547.4 305.0,547.1 301.2,546.8 297.5,546.4 293.8,546.1 290.1,545.7 286.4,545.4 282.7,545.0 279.0,544.6 275.3,544.2 271.6,543.8 267.9,543.4 264.2,542.9 260.5,542.5 256.8,542.1 253.1,541.6 249.4,541.1 245.7,540.7 242.0,540.2 238.2,539.7 234.5,539.2 230.8,538.7 227.1,538.2 223.4,537.6 219.7,537.1 216.0,536.5 212.3,536.0 208.6,535.4 204.9,534.8 201.2,534.3 197.5,533.7 193.8,533.1 190.1,532.5 186.4,531.9 182.7,531.2 178.9,530.6 175.2,530.0 171.5,529.3 167.8,528.7 164.1,528.0 160.4,527.4 156.7,526.7 153.0,526.0 149.3,525.3 145.6,524.6 141.9,523.9 138.2,523.2 134.5,522.5 130.8,521.8 127.1,521.1 123.4,520.3 119.6,519.6 115.9,518.8 112.2,518.1 108.5,517.3 104.8,516.6 101.1,515.8 97.4,515.0 93.7,514.2 90.0,513.5 86.3,512.7 82.6,511.9 78.9,511.1 75.2,510.3 71.5,509.5 67.8,508.6 64.0,507.8 60.3,507.0 56.6,506.2 52.9,505.3 49.2,504.5 45.5,503.6 41.8,502.8 38.1,501.9 34.4,501.1" fill="#76B9E7" stroke="#76B9E7" stroke-width="0.4"/>
<polygon points="34.4,408.7 38.1,410.1 41.8,411.5 45.5,413.0 49.2,414.4 52.9,415.9 56.6,417.4 60.3,418.8 64.0,420.3 67.8,421.8 71.5,423.3 75.2,424.8 78.9,426.3 82.6,427.8 86.3,429.3 90.0,430.8 93.7,432.3 97.4,433.8 101.1,435.3 104.8,436.8 108.5,438.3 112.2,439.8 115.9,441.3 119.6,442.8 123.4,444.3 127.1,445.8 130.8,447.3 134.5,448.7 138.2,450.2 141.9,451.7 145.6,453.2 149.3,454.7 153.0,456.1 156.7,457.6 160.4,459.0 164.1,460.5 167.8,461.9 171.5,463.3 175.2,464.8 178.9,466.2 182.7,467.6 186.4,469.0 190.1,470.3 193.8,471.7 197.5,473.1 201.2,474.4 204.9,475.8 208.6,477.1 212.3,478.4 216.0,479.7 219.7,481.0 223.4,482.2 227.1,483.5 230.8,484.7 234.5,486.0 238.2,487.2 242.0,488.4 245.7,489.5 249.4,490.7 253.1,491.8 256.8,492.9 260.5,494.0 264.2,495.1 267.9,496.2 271.6,497.2 275.3,498.3 279.0,499.3 282.7,500.2 286.4,501.2 290.1,502.1 293.8,503.1 297.5,503.9 301.2,504.8 305.0,505.7 308.7,506.5 312.4,507.3 316.1,508.0 319.8,508.8 323.5,509.5 327.2,510.2 330.9,510.8 330.9,531.6 327.2,531.2 323.5,530.8 319.8,530.4 316.1,530.0 312.4,529.6 308.7,529.1 305.0,528.7 301.2,528.2 297.5,527.8 293.8,527.3 290.1,526.8 286.4,526.3 282.7,525.8 279.0,525.3 275.3,524.8 271.6,524.2 267.9,523.7 264.2,523.1 260.5,522.6 256.8,522.0 253.1,521.4 249.4,520.8 245.7,520.2 242.0,519.6 238.2,519.0 234.5,518.4 230.8,517.8 227.1,517.1 223.4,516.5 219.7,515.8 216.0,515.2 212.3,514.5 208.6,513.9 204.9,513.2 201.2,512.5 197.5,511.8 193.8,511.1 190.1,510.4 186.4,509.7 182.7,509.0 178.9,508.3 175.2,507.6 171.5,506.9 167.8,506.1 164.1,505.4 160.4,504.7 156.7,503.9 153.0,503.2 149.3,502.4 145.6,501.7 141.9,500.9 138.2,500.2 134.5,499.4 130.8,498.7 127.1,497.9 123.4,497.1 119.6,496.4 115.9,495.6 112.2,494.8 108.5,494.1 104.8,493.3 101.1,492.5 97.4,491.7 93.7,491.0 90.0,490.2 86.3,489.4 82.6,488.6 78.9,487.9 75.2,487.1 71.5,486.3 67.8,485.5 64.0,484.8 60.3,484.0 56.6,483.2 52.9,482.5 49.2,481.7 45.5,480.9 41.8,480.2 38.1,479.4 34.4,478.6" fill="#E81E2B" stroke="#E81E2B" stroke-width="0.4"/>
<polygon points="34.4,352.4 38.1,354.0 41.8,355.6 45.5,357.1 49.2,358.7 52.9,360.2 56.6,361.8 60.3,363.3 64.0,364.8 67.8,366.4 71.5,367.9 75.2,369.5 78.9,371.0 82.6,372.5 86.3,374.1 90.0,375.6 93.7,377.1 97.4,378.6 101.1,380.2 104.8,381.7 108.5,383.2 112.2,384.7 115.9,386.2 119.6,387.7 123.4,389.2 127.1,390.7 130.8,392.2 134.5,393.6 138.2,395.1 141.9,396.6 145.6,398.1 149.3,399.5 153.0,401.0 156.7,402.4 160.4,403.9 164.1,405.3 167.8,406.8 171.5,408.2 175.2,409.6 178.9,411.1 182.7,412.5 186.4,413.9 190.1,415.3 193.8,416.7 197.5,418.1 201.2,419.5 204.9,420.8 208.6,422.2 212.3,423.6 216.0,424.9 219.7,426.3 223.4,427.6 227.1,429.0 230.8,430.3 234.5,431.6 238.2,432.9 242.0,434.2 245.7,435.5 249.4,436.8 253.1,438.1 256.8,439.4 260.5,440.6 264.2,441.9 267.9,443.1 271.6,444.4 275.3,445.6 279.0,446.8 282.7,448.0 286.4,449.2 290.1,450.4 293.8,451.6 297.5,452.8 301.2,453.9 305.0,455.1 308.7,456.2 312.4,457.4 316.1,458.5 319.8,459.6 323.5,460.7 327.2,461.8 330.9,462.9 330.9,510.8 327.2,510.2 323.5,509.5 319.8,508.8 316.1,508.0 312.4,507.3 308.7,506.5 305.0,505.7 301.2,504.8 297.5,503.9 293.8,503.1 290.1,502.1 286.4,501.2 282.7,500.2 279.0,499.3 275.3,498.3 271.6,497.2 267.9,496.2 264.2,495.1 260.5,494.0 256.8,492.9 253.1,491.8 249.4,490.7 245.7,489.5 242.0,488.4 238.2,487.2 234.5,486.0 230.8,484.7 227.1,483.5 223.4,482.2 219.7,481.0 216.0,479.7 212.3,478.4 208.6,477.1 204.9,475.8 201.2,474.4 197.5,473.1 193.8,471.7 190.1,470.3 186.4,469.0 182.7,467.6 178.9,466.2 175.2,464.8 171.5,463.3 167.8,461.9 164.1,460.5 160.4,459.0 156.7,457.6 153.0,456.1 149.3,454.7 145.6,453.2 141.9,451.7 138.2,450.2 134.5,448.7 130.8,447.3 127.1,445.8 123.4,444.3 119.6,442.8 115.9,441.3 112.2,439.8 108.5,438.3 104.8,436.8 101.1,435.3 97.4,433.8 93.7,432.3 90.0,430.8 86.3,429.3 82.6,427.8 78.9,426.3 75.2,424.8 71.5,423.3 67.8,421.8 64.0,420.3 60.3,418.8 56.6,417.4 52.9,415.9 49.2,414.4 45.5,413.0 41.8,411.5 38.1,410.1 34.4,408.7" fill="#EF787D" stroke="#EF787D" stroke-width="0.4"/>
<polyline points="34.4,501.1 38.1,501.9 41.8,502.8 45.5,503.6 49.2,504.5 52.9,505.3 56.6,506.2 60.3,507.0 64.0,507.8 67.8,508.6 71.5,509.5 75.2,510.3 78.9,511.1 82.6,511.9 86.3,512.7 90.0,513.5 93.7,514.2 97.4,515.0 101.1,515.8 104.8,516.6 108.5,517.3 112.2,518.1 115.9,518.8 119.6,519.6 123.4,520.3 127.1,521.1 130.8,521.8 134.5,522.5 138.2,523.2 141.9,523.9 145.6,524.6 149.3,525.3 153.0,526.0 156.7,526.7 160.4,527.4 164.1,528.0 167.8,528.7 171.5,529.3 175.2,530.0 178.9,530.6 182.7,531.2 186.4,531.9 190.1,532.5 193.8,533.1 197.5,533.7 201.2,534.3 204.9,534.8 208.6,535.4 212.3,536.0 216.0,536.5 219.7,537.1 223.4,537.6 227.1,538.2 230.8,538.7 234.5,539.2 238.2,539.7 242.0,540.2 245.7,540.7 249.4,541.1 253.1,541.6 256.8,542.1 260.5,542.5 264.2,542.9 267.9,543.4 271.6,543.8 275.3,544.2 279.0,544.6 282.7,545.0 286.4,545.4 290.1,545.7 293.8,546.1 297.5,546.4 301.2,546.8 305.0,547.1 308.7,547.4 312.4,547.7 316.1,548.0 319.8,548.3 323.5,548.5 327.2,548.8 330.9,549.0" fill="none" stroke="#111" stroke-width="1.1" stroke-dasharray="4.2 1.8"/>
<polyline points="34.4,478.6 38.1,479.4 41.8,480.2 45.5,480.9 49.2,481.7 52.9,482.5 56.6,483.2 60.3,484.0 64.0,484.8 67.8,485.5 71.5,486.3 75.2,487.1 78.9,487.9 82.6,488.6 86.3,489.4 90.0,490.2 93.7,491.0 97.4,491.7 101.1,492.5 104.8,493.3 108.5,494.1 112.2,494.8 115.9,495.6 119.6,496.4 123.4,497.1 127.1,497.9 130.8,498.7 134.5,499.4 138.2,500.2 141.9,500.9 145.6,501.7 149.3,502.4 153.0,503.2 156.7,503.9 160.4,504.7 164.1,505.4 167.8,506.1 171.5,506.9 175.2,507.6 178.9,508.3 182.7,509.0 186.4,509.7 190.1,510.4 193.8,511.1 197.5,511.8 201.2,512.5 204.9,513.2 208.6,513.9 212.3,514.5 216.0,515.2 219.7,515.8 223.4,516.5 227.1,517.1 230.8,517.8 234.5,518.4 238.2,519.0 242.0,519.6 245.7,520.2 249.4,520.8 253.1,521.4 256.8,522.0 260.5,522.6 264.2,523.1 267.9,523.7 271.6,524.2 275.3,524.8 279.0,525.3 282.7,525.8 286.4,526.3 290.1,526.8 293.8,527.3 297.5,527.8 301.2,528.2 305.0,528.7 308.7,529.1 312.4,529.6 316.1,530.0 319.8,530.4 323.5,530.8 327.2,531.2 330.9,531.6" fill="none" stroke="#111" stroke-width="1.1" stroke-dasharray="4.2 1.8"/>
<polyline points="34.4,408.7 38.1,410.1 41.8,411.5 45.5,413.0 49.2,414.4 52.9,415.9 56.6,417.4 60.3,418.8 64.0,420.3 67.8,421.8 71.5,423.3 75.2,424.8 78.9,426.3 82.6,427.8 86.3,429.3 90.0,430.8 93.7,432.3 97.4,433.8 101.1,435.3 104.8,436.8 108.5,438.3 112.2,439.8 115.9,441.3 119.6,442.8 123.4,444.3 127.1,445.8 130.8,447.3 134.5,448.7 138.2,450.2 141.9,451.7 145.6,453.2 149.3,454.7 153.0,456.1 156.7,457.6 160.4,459.0 164.1,460.5 167.8,461.9 171.5,463.3 175.2,464.8 178.9,466.2 182.7,467.6 186.4,469.0 190.1,470.3 193.8,471.7 197.5,473.1 201.2,474.4 204.9,475.8 208.6,477.1 212.3,478.4 216.0,479.7 219.7,481.0 223.4,482.2 227.1,483.5 230.8,484.7 234.5,486.0 238.2,487.2 242.0,488.4 245.7,489.5 249.4,490.7 253.1,491.8 256.8,492.9 260.5,494.0 264.2,495.1 267.9,496.2 271.6,497.2 275.3,498.3 279.0,499.3 282.7,500.2 286.4,501.2 290.1,502.1 293.8,503.1 297.5,503.9 301.2,504.8 305.0,505.7 308.7,506.5 312.4,507.3 316.1,508.0 319.8,508.8 323.5,509.5 327.2,510.2 330.9,510.8" fill="none" stroke="#111" stroke-width="1.1" stroke-dasharray="4.2 1.8"/>
<polyline points="34.4,352.4 38.1,354.0 41.8,355.6 45.5,357.1 49.2,358.7 52.9,360.2 56.6,361.8 60.3,363.3 64.0,364.8 67.8,366.4 71.5,367.9 75.2,369.5 78.9,371.0 82.6,372.5 86.3,374.1 90.0,375.6 93.7,377.1 97.4,378.6 101.1,380.2 104.8,381.7 108.5,383.2 112.2,384.7 115.9,386.2 119.6,387.7 123.4,389.2 127.1,390.7 130.8,392.2 134.5,393.6 138.2,395.1 141.9,396.6 145.6,398.1 149.3,399.5 153.0,401.0 156.7,402.4 160.4,403.9 164.1,405.3 167.8,406.8 171.5,408.2 175.2,409.6 178.9,411.1 182.7,412.5 186.4,413.9 190.1,415.3 193.8,416.7 197.5,418.1 201.2,419.5 204.9,420.8 208.6,422.2 212.3,423.6 216.0,424.9 219.7,426.3 223.4,427.6 227.1,429.0 230.8,430.3 234.5,431.6 238.2,432.9 242.0,434.2 245.7,435.5 249.4,436.8 253.1,438.1 256.8,439.4 260.5,440.6 264.2,441.9 267.9,443.1 271.6,444.4 275.3,445.6 279.0,446.8 282.7,448.0 286.4,449.2 290.1,450.4 293.8,451.6 297.5,452.8 301.2,453.9 305.0,455.1 308.7,456.2 312.4,457.4 316.1,458.5 319.8,459.6 323.5,460.7 327.2,461.8 330.9,462.9" fill="none" stroke="#111" stroke-width="1.1" stroke-dasharray="4.2 1.8"/>
<line x1="34.40" y1="314.51" x2="34.40" y2="562.10" stroke="#000" stroke-width="2.2"/>
<line x1="33.30" y1="560.50" x2="332.00" y2="560.50" stroke="#000" stroke-width="2.1"/>
<line x1="29.00" y1="560.80" x2="34.40" y2="560.80" stroke="#000" stroke-width="1.8"/>
<text x="25.80" y="564.65" text-anchor="end" font-size="10.8" font-family="Liberation Sans, sans-serif" textLength="5.6" lengthAdjust="spacingAndGlyphs" fill="#0a0a0a" stroke="#0a0a0a" stroke-width="0.25">0</text>
<line x1="29.00" y1="538.49" x2="34.40" y2="538.49" stroke="#000" stroke-width="1.8"/>
<text x="25.80" y="542.34" text-anchor="end" font-size="10.8" font-family="Liberation Sans, sans-serif" textLength="5.6" lengthAdjust="spacingAndGlyphs" fill="#0a0a0a" stroke="#0a0a0a" stroke-width="0.25">3</text>
<line x1="29.00" y1="516.18" x2="34.40" y2="516.18" stroke="#000" stroke-width="1.8"/>
<text x="25.80" y="520.03" text-anchor="end" font-size="10.8" font-family="Liberation Sans, sans-serif" textLength="5.6" lengthAdjust="spacingAndGlyphs" fill="#0a0a0a" stroke="#0a0a0a" stroke-width="0.25">6</text>
<line x1="29.00" y1="493.88" x2="34.40" y2="493.88" stroke="#000" stroke-width="1.8"/>
<text x="25.80" y="497.73" text-anchor="end" font-size="10.8" font-family="Liberation Sans, sans-serif" textLength="5.6" lengthAdjust="spacingAndGlyphs" fill="#0a0a0a" stroke="#0a0a0a" stroke-width="0.25">9</text>
<line x1="29.00" y1="471.57" x2="34.40" y2="471.57" stroke="#000" stroke-width="1.8"/>
<text x="25.80" y="475.42" text-anchor="end" font-size="10.8" font-family="Liberation Sans, sans-serif" textLength="11.7" lengthAdjust="spacingAndGlyphs" fill="#0a0a0a" stroke="#0a0a0a" stroke-width="0.25">12</text>
<line x1="29.00" y1="449.26" x2="34.40" y2="449.26" stroke="#000" stroke-width="1.8"/>
<text x="25.80" y="453.11" text-anchor="end" font-size="10.8" font-family="Liberation Sans, sans-serif" textLength="11.7" lengthAdjust="spacingAndGlyphs" fill="#0a0a0a" stroke="#0a0a0a" stroke-width="0.25">15</text>
<line x1="29.00" y1="426.95" x2="34.40" y2="426.95" stroke="#000" stroke-width="1.8"/>
<text x="25.80" y="430.80" text-anchor="end" font-size="10.8" font-family="Liberation Sans, sans-serif" textLength="11.7" lengthAdjust="spacingAndGlyphs" fill="#0a0a0a" stroke="#0a0a0a" stroke-width="0.25">18</text>
<line x1="29.00" y1="404.64" x2="34.40" y2="404.64" stroke="#000" stroke-width="1.8"/>
<text x="25.80" y="408.49" text-anchor="end" font-size="10.8" font-family="Liberation Sans, sans-serif" textLength="11.7" lengthAdjust="spacingAndGlyphs" fill="#0a0a0a" stroke="#0a0a0a" stroke-width="0.25">21</text>
<line x1="29.00" y1="382.34" x2="34.40" y2="382.34" stroke="#000" stroke-width="1.8"/>
<text x="25.80" y="386.19" text-anchor="end" font-size="10.8" font-family="Liberation Sans, sans-serif" textLength="11.7" lengthAdjust="spacingAndGlyphs" fill="#0a0a0a" stroke="#0a0a0a" stroke-width="0.25">24</text>
<line x1="29.00" y1="360.03" x2="34.40" y2="360.03" stroke="#000" stroke-width="1.8"/>
<text x="25.80" y="363.88" text-anchor="end" font-size="10.8" font-family="Liberation Sans, sans-serif" textLength="11.7" lengthAdjust="spacingAndGlyphs" fill="#0a0a0a" stroke="#0a0a0a" stroke-width="0.25">27</text>
<line x1="29.00" y1="337.72" x2="34.40" y2="337.72" stroke="#000" stroke-width="1.8"/>
<text x="25.80" y="341.57" text-anchor="end" font-size="10.8" font-family="Liberation Sans, sans-serif" textLength="11.7" lengthAdjust="spacingAndGlyphs" fill="#0a0a0a" stroke="#0a0a0a" stroke-width="0.25">30</text>
<line x1="29.00" y1="315.41" x2="34.40" y2="315.41" stroke="#000" stroke-width="1.8"/>
<text x="25.80" y="319.26" text-anchor="end" font-size="10.8" font-family="Liberation Sans, sans-serif" textLength="11.7" lengthAdjust="spacingAndGlyphs" fill="#0a0a0a" stroke="#0a0a0a" stroke-width="0.25">33</text>
<line x1="34.40" y1="560.80" x2="34.40" y2="565.50" stroke="#000" stroke-width="1.9"/>
<line x1="93.76" y1="560.80" x2="93.76" y2="565.50" stroke="#000" stroke-width="1.9"/>
<line x1="153.12" y1="560.80" x2="153.12" y2="565.50" stroke="#000" stroke-width="1.9"/>
<line x1="212.48" y1="560.80" x2="212.48" y2="565.50" stroke="#000" stroke-width="1.9"/>
<line x1="271.84" y1="560.80" x2="271.84" y2="565.50" stroke="#000" stroke-width="1.9"/>
<line x1="331.20" y1="560.80" x2="331.20" y2="565.50" stroke="#000" stroke-width="1.9"/>
<text transform="translate(9.2,436.50) rotate(-90)" text-anchor="middle" font-size="10.2" font-family="Liberation Sans, sans-serif" textLength="107" lengthAdjust="spacingAndGlyphs" fill="#0a0a0a" stroke="#0a0a0a" stroke-width="0.25">Life expectancy (years)</text>
<polygon points="383.1,490.4 386.7,490.9 390.4,491.4 394.0,491.9 397.6,492.3 401.2,492.8 404.9,493.3 408.5,493.8 412.1,494.3 415.7,494.8 419.4,495.3 423.0,495.8 426.6,496.3 430.2,496.8 433.9,497.3 437.5,497.8 441.1,498.3 444.7,498.8 448.4,499.3 452.0,499.8 455.6,500.3 459.3,500.8 462.9,501.3 466.5,501.9 470.1,502.4 473.8,502.9 477.4,503.4 481.0,503.9 484.6,504.4 488.3,505.0 491.9,505.5 495.5,506.0 499.1,506.5 502.8,507.0 506.4,507.6 510.0,508.1 513.6,508.6 517.3,509.1 520.9,509.7 524.5,510.2 528.2,510.7 531.8,511.3 535.4,511.8 539.0,512.3 542.7,512.8 546.3,513.4 549.9,513.9 553.5,514.4 557.2,514.9 560.8,515.5 564.4,516.0 568.0,516.5 571.7,517.0 575.3,517.6 578.9,518.1 582.5,518.6 586.2,519.1 589.8,519.6 593.4,520.2 597.0,520.7 600.7,521.2 604.3,521.7 607.9,522.2 611.6,522.8 615.2,523.3 618.8,523.8 622.4,524.3 626.1,524.8 629.7,525.3 633.3,525.8 636.9,526.3 640.6,526.8 644.2,527.4 647.8,527.9 651.4,528.4 655.1,528.9 658.7,529.4 662.3,529.9 665.9,530.3 669.6,530.8 673.2,531.3 673.2,560.4 669.6,560.4 665.9,560.4 662.3,560.4 658.7,560.4 655.1,560.4 651.4,560.4 647.8,560.4 644.2,560.4 640.6,560.4 636.9,560.4 633.3,560.4 629.7,560.4 626.1,560.4 622.4,560.4 618.8,560.4 615.2,560.4 611.6,560.4 607.9,560.4 604.3,560.4 600.7,560.4 597.0,560.4 593.4,560.4 589.8,560.4 586.2,560.4 582.5,560.4 578.9,560.4 575.3,560.4 571.7,560.4 568.0,560.4 564.4,560.4 560.8,560.4 557.2,560.4 553.5,560.4 549.9,560.4 546.3,560.4 542.7,560.4 539.0,560.4 535.4,560.4 531.8,560.4 528.2,560.4 524.5,560.4 520.9,560.4 517.3,560.4 513.6,560.4 510.0,560.4 506.4,560.4 502.8,560.4 499.1,560.4 495.5,560.4 491.9,560.4 488.3,560.4 484.6,560.4 481.0,560.4 477.4,560.4 473.8,560.4 470.1,560.4 466.5,560.4 462.9,560.4 459.3,560.4 455.6,560.4 452.0,560.4 448.4,560.4 444.7,560.4 441.1,560.4 437.5,560.4 433.9,560.4 430.2,560.4 426.6,560.4 423.0,560.4 419.4,560.4 415.7,560.4 412.1,560.4 408.5,560.4 404.9,560.4 401.2,560.4 397.6,560.4 394.0,560.4 390.4,560.4 386.7,560.4 383.1,560.4" fill="#3478C3" stroke="#3478C3" stroke-width="0.4"/>
<polygon points="383.1,463.6 386.7,463.9 390.4,464.2 394.0,464.5 397.6,464.8 401.2,465.1 404.9,465.4 408.5,465.7 412.1,466.0 415.7,466.3 419.4,466.6 423.0,466.9 426.6,467.2 430.2,467.5 433.9,467.8 437.5,468.1 441.1,468.5 444.7,468.8 448.4,469.1 452.0,469.4 455.6,469.7 459.3,470.0 462.9,470.3 466.5,470.6 470.1,470.9 473.8,471.2 477.4,471.5 481.0,471.8 484.6,472.1 488.3,472.4 491.9,472.7 495.5,473.0 499.1,473.3 502.8,473.6 506.4,473.9 510.0,474.2 513.6,474.5 517.3,474.8 520.9,475.1 524.5,475.4 528.2,475.6 531.8,475.9 535.4,476.2 539.0,476.5 542.7,476.8 546.3,477.1 549.9,477.4 553.5,477.7 557.2,478.0 560.8,478.3 564.4,478.6 568.0,478.8 571.7,479.1 575.3,479.4 578.9,479.7 582.5,480.0 586.2,480.3 589.8,480.5 593.4,480.8 597.0,481.1 600.7,481.4 604.3,481.7 607.9,481.9 611.6,482.2 615.2,482.5 618.8,482.8 622.4,483.0 626.1,483.3 629.7,483.6 633.3,483.8 636.9,484.1 640.6,484.4 644.2,484.6 647.8,484.9 651.4,485.2 655.1,485.4 658.7,485.7 662.3,486.0 665.9,486.2 669.6,486.5 673.2,486.7 673.2,531.3 669.6,530.8 665.9,530.3 662.3,529.9 658.7,529.4 655.1,528.9 651.4,528.4 647.8,527.9 644.2,527.4 640.6,526.8 636.9,526.3 633.3,525.8 629.7,525.3 626.1,524.8 622.4,524.3 618.8,523.8 615.2,523.3 611.6,522.8 607.9,522.2 604.3,521.7 600.7,521.2 597.0,520.7 593.4,520.2 589.8,519.6 586.2,519.1 582.5,518.6 578.9,518.1 575.3,517.6 571.7,517.0 568.0,516.5 564.4,516.0 560.8,515.5 557.2,514.9 553.5,514.4 549.9,513.9 546.3,513.4 542.7,512.8 539.0,512.3 535.4,511.8 531.8,511.3 528.2,510.7 524.5,510.2 520.9,509.7 517.3,509.1 513.6,508.6 510.0,508.1 506.4,507.6 502.8,507.0 499.1,506.5 495.5,506.0 491.9,505.5 488.3,505.0 484.6,504.4 481.0,503.9 477.4,503.4 473.8,502.9 470.1,502.4 466.5,501.9 462.9,501.3 459.3,500.8 455.6,500.3 452.0,499.8 448.4,499.3 444.7,498.8 441.1,498.3 437.5,497.8 433.9,497.3 430.2,496.8 426.6,496.3 423.0,495.8 419.4,495.3 415.7,494.8 412.1,494.3 408.5,493.8 404.9,493.3 401.2,492.8 397.6,492.3 394.0,491.9 390.4,491.4 386.7,490.9 383.1,490.4" fill="#76B9E7" stroke="#76B9E7" stroke-width="0.4"/>
<polygon points="383.1,381.0 386.7,381.5 390.4,382.0 394.0,382.5 397.6,383.0 401.2,383.6 404.9,384.1 408.5,384.6 412.1,385.1 415.7,385.7 419.4,386.2 423.0,386.8 426.6,387.3 430.2,387.9 433.9,388.4 437.5,389.0 441.1,389.6 444.7,390.1 448.4,390.7 452.0,391.3 455.6,391.9 459.3,392.5 462.9,393.1 466.5,393.7 470.1,394.3 473.8,394.9 477.4,395.5 481.0,396.2 484.6,396.8 488.3,397.4 491.9,398.1 495.5,398.7 499.1,399.4 502.8,400.0 506.4,400.7 510.0,401.4 513.6,402.0 517.3,402.7 520.9,403.4 524.5,404.1 528.2,404.8 531.8,405.5 535.4,406.2 539.0,406.9 542.7,407.6 546.3,408.3 549.9,409.0 553.5,409.8 557.2,410.5 560.8,411.2 564.4,412.0 568.0,412.7 571.7,413.5 575.3,414.2 578.9,415.0 582.5,415.8 586.2,416.6 589.8,417.3 593.4,418.1 597.0,418.9 600.7,419.7 604.3,420.5 607.9,421.3 611.6,422.1 615.2,422.9 618.8,423.8 622.4,424.6 626.1,425.4 629.7,426.3 633.3,427.1 636.9,427.9 640.6,428.8 644.2,429.7 647.8,430.5 651.4,431.4 655.1,432.3 658.7,433.1 662.3,434.0 665.9,434.9 669.6,435.8 673.2,436.7 673.2,486.7 669.6,486.5 665.9,486.2 662.3,486.0 658.7,485.7 655.1,485.4 651.4,485.2 647.8,484.9 644.2,484.6 640.6,484.4 636.9,484.1 633.3,483.8 629.7,483.6 626.1,483.3 622.4,483.0 618.8,482.8 615.2,482.5 611.6,482.2 607.9,481.9 604.3,481.7 600.7,481.4 597.0,481.1 593.4,480.8 589.8,480.5 586.2,480.3 582.5,480.0 578.9,479.7 575.3,479.4 571.7,479.1 568.0,478.8 564.4,478.6 560.8,478.3 557.2,478.0 553.5,477.7 549.9,477.4 546.3,477.1 542.7,476.8 539.0,476.5 535.4,476.2 531.8,475.9 528.2,475.6 524.5,475.4 520.9,475.1 517.3,474.8 513.6,474.5 510.0,474.2 506.4,473.9 502.8,473.6 499.1,473.3 495.5,473.0 491.9,472.7 488.3,472.4 484.6,472.1 481.0,471.8 477.4,471.5 473.8,471.2 470.1,470.9 466.5,470.6 462.9,470.3 459.3,470.0 455.6,469.7 452.0,469.4 448.4,469.1 444.7,468.8 441.1,468.5 437.5,468.1 433.9,467.8 430.2,467.5 426.6,467.2 423.0,466.9 419.4,466.6 415.7,466.3 412.1,466.0 408.5,465.7 404.9,465.4 401.2,465.1 397.6,464.8 394.0,464.5 390.4,464.2 386.7,463.9 383.1,463.6" fill="#E81E2B" stroke="#E81E2B" stroke-width="0.4"/>
<polygon points="383.1,314.0 386.7,314.0 390.4,314.0 394.0,314.0 397.6,314.0 401.2,314.0 404.9,314.0 408.5,314.0 412.1,314.0 415.7,314.0 419.4,314.0 423.0,314.0 426.6,314.0 430.2,314.0 433.9,314.0 437.5,314.0 441.1,314.0 444.7,314.0 448.4,314.0 452.0,314.0 455.6,314.0 459.3,314.0 462.9,314.0 466.5,314.0 470.1,314.0 473.8,314.0 477.4,314.0 481.0,314.0 484.6,314.0 488.3,314.0 491.9,314.0 495.5,314.0 499.1,314.0 502.8,314.0 506.4,314.0 510.0,314.0 513.6,314.0 517.3,314.0 520.9,314.0 524.5,314.0 528.2,314.0 531.8,314.0 535.4,314.0 539.0,314.0 542.7,314.0 546.3,314.0 549.9,314.0 553.5,314.0 557.2,314.0 560.8,314.0 564.4,314.0 568.0,314.0 571.7,314.0 575.3,314.0 578.9,314.0 582.5,314.0 586.2,314.0 589.8,314.0 593.4,314.0 597.0,314.0 600.7,314.0 604.3,314.0 607.9,314.0 611.6,314.0 615.2,314.0 618.8,314.0 622.4,314.0 626.1,314.0 629.7,314.0 633.3,314.0 636.9,314.0 640.6,314.0 644.2,314.0 647.8,314.0 651.4,314.0 655.1,314.0 658.7,314.0 662.3,314.0 665.9,314.0 669.6,314.0 673.2,314.0 673.2,436.7 669.6,435.8 665.9,434.9 662.3,434.0 658.7,433.1 655.1,432.3 651.4,431.4 647.8,430.5 644.2,429.7 640.6,428.8 636.9,427.9 633.3,427.1 629.7,426.3 626.1,425.4 622.4,424.6 618.8,423.8 615.2,422.9 611.6,422.1 607.9,421.3 604.3,420.5 600.7,419.7 597.0,418.9 593.4,418.1 589.8,417.3 586.2,416.6 582.5,415.8 578.9,415.0 575.3,414.2 571.7,413.5 568.0,412.7 564.4,412.0 560.8,411.2 557.2,410.5 553.5,409.8 549.9,409.0 546.3,408.3 542.7,407.6 539.0,406.9 535.4,406.2 531.8,405.5 528.2,404.8 524.5,404.1 520.9,403.4 517.3,402.7 513.6,402.0 510.0,401.4 506.4,400.7 502.8,400.0 499.1,399.4 495.5,398.7 491.9,398.1 488.3,397.4 484.6,396.8 481.0,396.2 477.4,395.5 473.8,394.9 470.1,394.3 466.5,393.7 462.9,393.1 459.3,392.5 455.6,391.9 452.0,391.3 448.4,390.7 444.7,390.1 441.1,389.6 437.5,389.0 433.9,388.4 430.2,387.9 426.6,387.3 423.0,386.8 419.4,386.2 415.7,385.7 412.1,385.1 408.5,384.6 404.9,384.1 401.2,383.6 397.6,383.0 394.0,382.5 390.4,382.0 386.7,381.5 383.1,381.0" fill="#EF787D" stroke="#EF787D" stroke-width="0.4"/>
<polyline points="383.1,490.4 386.7,490.9 390.4,491.4 394.0,491.9 397.6,492.3 401.2,492.8 404.9,493.3 408.5,493.8 412.1,494.3 415.7,494.8 419.4,495.3 423.0,495.8 426.6,496.3 430.2,496.8 433.9,497.3 437.5,497.8 441.1,498.3 444.7,498.8 448.4,499.3 452.0,499.8 455.6,500.3 459.3,500.8 462.9,501.3 466.5,501.9 470.1,502.4 473.8,502.9 477.4,503.4 481.0,503.9 484.6,504.4 488.3,505.0 491.9,505.5 495.5,506.0 499.1,506.5 502.8,507.0 506.4,507.6 510.0,508.1 513.6,508.6 517.3,509.1 520.9,509.7 524.5,510.2 528.2,510.7 531.8,511.3 535.4,511.8 539.0,512.3 542.7,512.8 546.3,513.4 549.9,513.9 553.5,514.4 557.2,514.9 560.8,515.5 564.4,516.0 568.0,516.5 571.7,517.0 575.3,517.6 578.9,518.1 582.5,518.6 586.2,519.1 589.8,519.6 593.4,520.2 597.0,520.7 600.7,521.2 604.3,521.7 607.9,522.2 611.6,522.8 615.2,523.3 618.8,523.8 622.4,524.3 626.1,524.8 629.7,525.3 633.3,525.8 636.9,526.3 640.6,526.8 644.2,527.4 647.8,527.9 651.4,528.4 655.1,528.9 658.7,529.4 662.3,529.9 665.9,530.3 669.6,530.8 673.2,531.3" fill="none" stroke="#111" stroke-width="1.1" stroke-dasharray="4.2 1.8"/>
<polyline points="383.1,463.6 386.7,463.9 390.4,464.2 394.0,464.5 397.6,464.8 401.2,465.1 404.9,465.4 408.5,465.7 412.1,466.0 415.7,466.3 419.4,466.6 423.0,466.9 426.6,467.2 430.2,467.5 433.9,467.8 437.5,468.1 441.1,468.5 444.7,468.8 448.4,469.1 452.0,469.4 455.6,469.7 459.3,470.0 462.9,470.3 466.5,470.6 470.1,470.9 473.8,471.2 477.4,471.5 481.0,471.8 484.6,472.1 488.3,472.4 491.9,472.7 495.5,473.0 499.1,473.3 502.8,473.6 506.4,473.9 510.0,474.2 513.6,474.5 517.3,474.8 520.9,475.1 524.5,475.4 528.2,475.6 531.8,475.9 535.4,476.2 539.0,476.5 542.7,476.8 546.3,477.1 549.9,477.4 553.5,477.7 557.2,478.0 560.8,478.3 564.4,478.6 568.0,478.8 571.7,479.1 575.3,479.4 578.9,479.7 582.5,480.0 586.2,480.3 589.8,480.5 593.4,480.8 597.0,481.1 600.7,481.4 604.3,481.7 607.9,481.9 611.6,482.2 615.2,482.5 618.8,482.8 622.4,483.0 626.1,483.3 629.7,483.6 633.3,483.8 636.9,484.1 640.6,484.4 644.2,484.6 647.8,484.9 651.4,485.2 655.1,485.4 658.7,485.7 662.3,486.0 665.9,486.2 669.6,486.5 673.2,486.7" fill="none" stroke="#111" stroke-width="1.1" stroke-dasharray="4.2 1.8"/>
<polyline points="383.1,381.0 386.7,381.5 390.4,382.0 394.0,382.5 397.6,383.0 401.2,383.6 404.9,384.1 408.5,384.6 412.1,385.1 415.7,385.7 419.4,386.2 423.0,386.8 426.6,387.3 430.2,387.9 433.9,388.4 437.5,389.0 441.1,389.6 444.7,390.1 448.4,390.7 452.0,391.3 455.6,391.9 459.3,392.5 462.9,393.1 466.5,393.7 470.1,394.3 473.8,394.9 477.4,395.5 481.0,396.2 484.6,396.8 488.3,397.4 491.9,398.1 495.5,398.7 499.1,399.4 502.8,400.0 506.4,400.7 510.0,401.4 513.6,402.0 517.3,402.7 520.9,403.4 524.5,404.1 528.2,404.8 531.8,405.5 535.4,406.2 539.0,406.9 542.7,407.6 546.3,408.3 549.9,409.0 553.5,409.8 557.2,410.5 560.8,411.2 564.4,412.0 568.0,412.7 571.7,413.5 575.3,414.2 578.9,415.0 582.5,415.8 586.2,416.6 589.8,417.3 593.4,418.1 597.0,418.9 600.7,419.7 604.3,420.5 607.9,421.3 611.6,422.1 615.2,422.9 618.8,423.8 622.4,424.6 626.1,425.4 629.7,426.3 633.3,427.1 636.9,427.9 640.6,428.8 644.2,429.7 647.8,430.5 651.4,431.4 655.1,432.3 658.7,433.1 662.3,434.0 665.9,434.9 669.6,435.8 673.2,436.7" fill="none" stroke="#111" stroke-width="1.1" stroke-dasharray="4.2 1.8"/>
<polyline points="383.1,314.0 386.7,314.0 390.4,314.0 394.0,314.0 397.6,314.0 401.2,314.0 404.9,314.0 408.5,314.0 412.1,314.0 415.7,314.0 419.4,314.0 423.0,314.0 426.6,314.0 430.2,314.0 433.9,314.0 437.5,314.0 441.1,314.0 444.7,314.0 448.4,314.0 452.0,314.0 455.6,314.0 459.3,314.0 462.9,314.0 466.5,314.0 470.1,314.0 473.8,314.0 477.4,314.0 481.0,314.0 484.6,314.0 488.3,314.0 491.9,314.0 495.5,314.0 499.1,314.0 502.8,314.0 506.4,314.0 510.0,314.0 513.6,314.0 517.3,314.0 520.9,314.0 524.5,314.0 528.2,314.0 531.8,314.0 535.4,314.0 539.0,314.0 542.7,314.0 546.3,314.0 549.9,314.0 553.5,314.0 557.2,314.0 560.8,314.0 564.4,314.0 568.0,314.0 571.7,314.0 575.3,314.0 578.9,314.0 582.5,314.0 586.2,314.0 589.8,314.0 593.4,314.0 597.0,314.0 600.7,314.0 604.3,314.0 607.9,314.0 611.6,314.0 615.2,314.0 618.8,314.0 622.4,314.0 626.1,314.0 629.7,314.0 633.3,314.0 636.9,314.0 640.6,314.0 644.2,314.0 647.8,314.0 651.4,314.0 655.1,314.0 658.7,314.0 662.3,314.0 665.9,314.0 669.6,314.0 673.2,314.0" fill="none" stroke="#a84e58" stroke-width="1" stroke-dasharray="4.2 1.8"/>
<line x1="383.10" y1="313.10" x2="383.10" y2="561.70" stroke="#000" stroke-width="2.2"/>
<line x1="382.00" y1="560.10" x2="674.30" y2="560.10" stroke="#000" stroke-width="2.1"/>
<line x1="377.70" y1="560.40" x2="383.10" y2="560.40" stroke="#000" stroke-width="1.8"/>
<text x="374.50" y="564.25" text-anchor="end" font-size="10.8" font-family="Liberation Sans, sans-serif" textLength="5.6" lengthAdjust="spacingAndGlyphs" fill="#0a0a0a" stroke="#0a0a0a" stroke-width="0.25">0</text>
<line x1="377.70" y1="511.12" x2="383.10" y2="511.12" stroke="#000" stroke-width="1.8"/>
<text x="374.50" y="514.97" text-anchor="end" font-size="10.8" font-family="Liberation Sans, sans-serif" textLength="11.7" lengthAdjust="spacingAndGlyphs" fill="#0a0a0a" stroke="#0a0a0a" stroke-width="0.25">20</text>
<line x1="377.70" y1="461.84" x2="383.10" y2="461.84" stroke="#000" stroke-width="1.8"/>
<text x="374.50" y="465.69" text-anchor="end" font-size="10.8" font-style="italic" font-family="Liberation Sans, sans-serif" textLength="11.7" lengthAdjust="spacingAndGlyphs" fill="#0a0a0a" stroke="#0a0a0a" stroke-width="0.25">40</text>
<line x1="377.70" y1="412.56" x2="383.10" y2="412.56" stroke="#000" stroke-width="1.8"/>
<text x="374.50" y="416.41" text-anchor="end" font-size="10.8" font-family="Liberation Sans, sans-serif" textLength="11.7" lengthAdjust="spacingAndGlyphs" fill="#0a0a0a" stroke="#0a0a0a" stroke-width="0.25">60</text>
<line x1="377.70" y1="363.28" x2="383.10" y2="363.28" stroke="#000" stroke-width="1.8"/>
<text x="374.50" y="367.13" text-anchor="end" font-size="10.8" font-family="Liberation Sans, sans-serif" textLength="11.7" lengthAdjust="spacingAndGlyphs" fill="#0a0a0a" stroke="#0a0a0a" stroke-width="0.25">80</text>
<line x1="377.70" y1="314.00" x2="383.10" y2="314.00" stroke="#000" stroke-width="1.8"/>
<text x="374.50" y="317.85" text-anchor="end" font-size="10.8" font-family="Liberation Sans, sans-serif" textLength="17.7" lengthAdjust="spacingAndGlyphs" fill="#0a0a0a" stroke="#0a0a0a" stroke-width="0.25">100</text>
<line x1="383.10" y1="560.40" x2="383.10" y2="565.10" stroke="#000" stroke-width="1.9"/>
<line x1="441.18" y1="560.40" x2="441.18" y2="565.10" stroke="#000" stroke-width="1.9"/>
<line x1="499.26" y1="560.40" x2="499.26" y2="565.10" stroke="#000" stroke-width="1.9"/>
<line x1="557.34" y1="560.40" x2="557.34" y2="565.10" stroke="#000" stroke-width="1.9"/>
<line x1="615.42" y1="560.40" x2="615.42" y2="565.10" stroke="#000" stroke-width="1.9"/>
<line x1="673.50" y1="560.40" x2="673.50" y2="565.10" stroke="#000" stroke-width="1.9"/>
<text transform="translate(352.1,436.50) rotate(-90)" text-anchor="middle" font-size="10.2" font-family="Liberation Sans, sans-serif" textLength="71" lengthAdjust="spacingAndGlyphs" fill="#0a0a0a" stroke="#0a0a0a" stroke-width="0.25">Percentage (%)</text>
<polygon points="40.2,797.8 43.9,798.5 47.6,799.2 51.3,799.9 55.0,800.5 58.7,801.2 62.4,801.9 66.1,802.5 69.8,803.2 73.5,803.8 77.2,804.4 80.8,805.1 84.5,805.7 88.2,806.3 91.9,806.9 95.6,807.5 99.3,808.1 103.0,808.7 106.7,809.3 110.4,809.8 114.1,810.4 117.8,811.0 121.5,811.5 125.2,812.1 128.9,812.6 132.6,813.1 136.3,813.7 140.0,814.2 143.7,814.7 147.4,815.2 151.1,815.7 154.7,816.2 158.4,816.7 162.1,817.2 165.8,817.6 169.5,818.1 173.2,818.6 176.9,819.0 180.6,819.5 184.3,819.9 188.0,820.3 191.7,820.8 195.4,821.2 199.1,821.6 202.8,822.0 206.5,822.4 210.2,822.8 213.9,823.2 217.6,823.6 221.3,824.0 224.9,824.4 228.6,824.7 232.3,825.1 236.0,825.4 239.7,825.8 243.4,826.1 247.1,826.4 250.8,826.8 254.5,827.1 258.2,827.4 261.9,827.7 265.6,828.0 269.3,828.3 273.0,828.6 276.7,828.9 280.4,829.2 284.1,829.4 287.8,829.7 291.5,830.0 295.2,830.2 298.9,830.5 302.5,830.7 306.2,830.9 309.9,831.2 313.6,831.4 317.3,831.6 321.0,831.8 324.7,832.0 328.4,832.2 332.1,832.4 335.8,832.6 335.8,839.6 332.1,839.6 328.4,839.6 324.7,839.6 321.0,839.6 317.3,839.6 313.6,839.6 309.9,839.6 306.2,839.6 302.5,839.6 298.9,839.6 295.2,839.6 291.5,839.6 287.8,839.6 284.1,839.6 280.4,839.6 276.7,839.6 273.0,839.6 269.3,839.6 265.6,839.6 261.9,839.6 258.2,839.6 254.5,839.6 250.8,839.6 247.1,839.6 243.4,839.6 239.7,839.6 236.0,839.6 232.3,839.6 228.6,839.6 224.9,839.6 221.3,839.6 217.6,839.6 213.9,839.6 210.2,839.6 206.5,839.6 202.8,839.6 199.1,839.6 195.4,839.6 191.7,839.6 188.0,839.6 184.3,839.6 180.6,839.6 176.9,839.6 173.2,839.6 169.5,839.6 165.8,839.6 162.1,839.6 158.4,839.6 154.7,839.6 151.1,839.6 147.4,839.6 143.7,839.6 140.0,839.6 136.3,839.6 132.6,839.6 128.9,839.6 125.2,839.6 121.5,839.6 117.8,839.6 114.1,839.6 110.4,839.6 106.7,839.6 103.0,839.6 99.3,839.6 95.6,839.6 91.9,839.6 88.2,839.6 84.5,839.6 80.8,839.6 77.2,839.6 73.5,839.6 69.8,839.6 66.1,839.6 62.4,839.6 58.7,839.6 55.0,839.6 51.3,839.6 47.6,839.6 43.9,839.6 40.2,839.6" fill="#3478C3" stroke="#3478C3" stroke-width="0.4"/>
<polygon points="40.2,766.2 43.9,767.0 47.6,767.7 51.3,768.5 55.0,769.2 58.7,769.9 62.4,770.7 66.1,771.4 69.8,772.2 73.5,772.9 77.2,773.6 80.8,774.4 84.5,775.1 88.2,775.9 91.9,776.6 95.6,777.3 99.3,778.1 103.0,778.8 106.7,779.5 110.4,780.2 114.1,781.0 117.8,781.7 121.5,782.4 125.2,783.1 128.9,783.8 132.6,784.6 136.3,785.3 140.0,786.0 143.7,786.7 147.4,787.4 151.1,788.1 154.7,788.8 158.4,789.4 162.1,790.1 165.8,790.8 169.5,791.5 173.2,792.1 176.9,792.8 180.6,793.5 184.3,794.1 188.0,794.8 191.7,795.4 195.4,796.1 199.1,796.7 202.8,797.3 206.5,798.0 210.2,798.6 213.9,799.2 217.6,799.8 221.3,800.4 224.9,801.0 228.6,801.6 232.3,802.2 236.0,802.8 239.7,803.3 243.4,803.9 247.1,804.4 250.8,805.0 254.5,805.5 258.2,806.1 261.9,806.6 265.6,807.1 269.3,807.6 273.0,808.1 276.7,808.6 280.4,809.1 284.1,809.6 287.8,810.0 291.5,810.5 295.2,811.0 298.9,811.4 302.5,811.8 306.2,812.3 309.9,812.7 313.6,813.1 317.3,813.5 321.0,813.9 324.7,814.2 328.4,814.6 332.1,815.0 335.8,815.3 335.8,832.6 332.1,832.4 328.4,832.2 324.7,832.0 321.0,831.8 317.3,831.6 313.6,831.4 309.9,831.2 306.2,830.9 302.5,830.7 298.9,830.5 295.2,830.2 291.5,830.0 287.8,829.7 284.1,829.4 280.4,829.2 276.7,828.9 273.0,828.6 269.3,828.3 265.6,828.0 261.9,827.7 258.2,827.4 254.5,827.1 250.8,826.8 247.1,826.4 243.4,826.1 239.7,825.8 236.0,825.4 232.3,825.1 228.6,824.7 224.9,824.4 221.3,824.0 217.6,823.6 213.9,823.2 210.2,822.8 206.5,822.4 202.8,822.0 199.1,821.6 195.4,821.2 191.7,820.8 188.0,820.3 184.3,819.9 180.6,819.5 176.9,819.0 173.2,818.6 169.5,818.1 165.8,817.6 162.1,817.2 158.4,816.7 154.7,816.2 151.1,815.7 147.4,815.2 143.7,814.7 140.0,814.2 136.3,813.7 132.6,813.1 128.9,812.6 125.2,812.1 121.5,811.5 117.8,811.0 114.1,810.4 110.4,809.8 106.7,809.3 103.0,808.7 99.3,808.1 95.6,807.5 91.9,806.9 88.2,806.3 84.5,805.7 80.8,805.1 77.2,804.4 73.5,803.8 69.8,803.2 66.1,802.5 62.4,801.9 58.7,801.2 55.0,800.5 51.3,799.9 47.6,799.2 43.9,798.5 40.2,797.8" fill="#76B9E7" stroke="#76B9E7" stroke-width="0.4"/>
<polygon points="40.2,700.1 43.9,701.6 47.6,703.1 51.3,704.7 55.0,706.2 58.7,707.7 62.4,709.2 66.1,710.7 69.8,712.2 73.5,713.7 77.2,715.2 80.8,716.6 84.5,718.1 88.2,719.5 91.9,721.0 95.6,722.4 99.3,723.9 103.0,725.3 106.7,726.7 110.4,728.1 114.1,729.5 117.8,730.9 121.5,732.3 125.2,733.7 128.9,735.0 132.6,736.4 136.3,737.8 140.0,739.1 143.7,740.4 147.4,741.8 151.1,743.1 154.7,744.4 158.4,745.7 162.1,747.0 165.8,748.2 169.5,749.5 173.2,750.8 176.9,752.0 180.6,753.3 184.3,754.5 188.0,755.7 191.7,756.9 195.4,758.1 199.1,759.3 202.8,760.5 206.5,761.7 210.2,762.8 213.9,764.0 217.6,765.1 221.3,766.2 224.9,767.4 228.6,768.5 232.3,769.6 236.0,770.6 239.7,771.7 243.4,772.8 247.1,773.8 250.8,774.9 254.5,775.9 258.2,776.9 261.9,777.9 265.6,778.9 269.3,779.9 273.0,780.8 276.7,781.8 280.4,782.7 284.1,783.7 287.8,784.6 291.5,785.5 295.2,786.4 298.9,787.2 302.5,788.1 306.2,789.0 309.9,789.8 313.6,790.6 317.3,791.4 321.0,792.2 324.7,793.0 328.4,793.8 332.1,794.6 335.8,795.3 335.8,815.3 332.1,815.0 328.4,814.6 324.7,814.2 321.0,813.9 317.3,813.5 313.6,813.1 309.9,812.7 306.2,812.3 302.5,811.8 298.9,811.4 295.2,811.0 291.5,810.5 287.8,810.0 284.1,809.6 280.4,809.1 276.7,808.6 273.0,808.1 269.3,807.6 265.6,807.1 261.9,806.6 258.2,806.1 254.5,805.5 250.8,805.0 247.1,804.4 243.4,803.9 239.7,803.3 236.0,802.8 232.3,802.2 228.6,801.6 224.9,801.0 221.3,800.4 217.6,799.8 213.9,799.2 210.2,798.6 206.5,798.0 202.8,797.3 199.1,796.7 195.4,796.1 191.7,795.4 188.0,794.8 184.3,794.1 180.6,793.5 176.9,792.8 173.2,792.1 169.5,791.5 165.8,790.8 162.1,790.1 158.4,789.4 154.7,788.8 151.1,788.1 147.4,787.4 143.7,786.7 140.0,786.0 136.3,785.3 132.6,784.6 128.9,783.8 125.2,783.1 121.5,782.4 117.8,781.7 114.1,781.0 110.4,780.2 106.7,779.5 103.0,778.8 99.3,778.1 95.6,777.3 91.9,776.6 88.2,775.9 84.5,775.1 80.8,774.4 77.2,773.6 73.5,772.9 69.8,772.2 66.1,771.4 62.4,770.7 58.7,769.9 55.0,769.2 51.3,768.5 47.6,767.7 43.9,767.0 40.2,766.2" fill="#E81E2B" stroke="#E81E2B" stroke-width="0.4"/>
<polygon points="40.2,604.1 43.9,605.7 47.6,607.3 51.3,608.9 55.0,610.5 58.7,612.1 62.4,613.8 66.1,615.4 69.8,617.1 73.5,618.7 77.2,620.4 80.8,622.0 84.5,623.7 88.2,625.4 91.9,627.1 95.6,628.8 99.3,630.5 103.0,632.2 106.7,633.9 110.4,635.6 114.1,637.3 117.8,639.0 121.5,640.7 125.2,642.4 128.9,644.1 132.6,645.8 136.3,647.5 140.0,649.2 143.7,650.9 147.4,652.6 151.1,654.3 154.7,656.0 158.4,657.7 162.1,659.4 165.8,661.1 169.5,662.8 173.2,664.5 176.9,666.1 180.6,667.8 184.3,669.5 188.0,671.1 191.7,672.8 195.4,674.4 199.1,676.1 202.8,677.7 206.5,679.3 210.2,680.9 213.9,682.6 217.6,684.2 221.3,685.7 224.9,687.3 228.6,688.9 232.3,690.5 236.0,692.0 239.7,693.5 243.4,695.1 247.1,696.6 250.8,698.1 254.5,699.6 258.2,701.0 261.9,702.5 265.6,703.9 269.3,705.4 273.0,706.8 276.7,708.2 280.4,709.5 284.1,710.9 287.8,712.3 291.5,713.6 295.2,714.9 298.9,716.2 302.5,717.5 306.2,718.7 309.9,720.0 313.6,721.2 317.3,722.4 321.0,723.6 324.7,724.7 328.4,725.9 332.1,727.0 335.8,728.1 335.8,795.3 332.1,794.6 328.4,793.8 324.7,793.0 321.0,792.2 317.3,791.4 313.6,790.6 309.9,789.8 306.2,789.0 302.5,788.1 298.9,787.2 295.2,786.4 291.5,785.5 287.8,784.6 284.1,783.7 280.4,782.7 276.7,781.8 273.0,780.8 269.3,779.9 265.6,778.9 261.9,777.9 258.2,776.9 254.5,775.9 250.8,774.9 247.1,773.8 243.4,772.8 239.7,771.7 236.0,770.6 232.3,769.6 228.6,768.5 224.9,767.4 221.3,766.2 217.6,765.1 213.9,764.0 210.2,762.8 206.5,761.7 202.8,760.5 199.1,759.3 195.4,758.1 191.7,756.9 188.0,755.7 184.3,754.5 180.6,753.3 176.9,752.0 173.2,750.8 169.5,749.5 165.8,748.2 162.1,747.0 158.4,745.7 154.7,744.4 151.1,743.1 147.4,741.8 143.7,740.4 140.0,739.1 136.3,737.8 132.6,736.4 128.9,735.0 125.2,733.7 121.5,732.3 117.8,730.9 114.1,729.5 110.4,728.1 106.7,726.7 103.0,725.3 99.3,723.9 95.6,722.4 91.9,721.0 88.2,719.5 84.5,718.1 80.8,716.6 77.2,715.2 73.5,713.7 69.8,712.2 66.1,710.7 62.4,709.2 58.7,707.7 55.0,706.2 51.3,704.7 47.6,703.1 43.9,701.6 40.2,700.1" fill="#EF787D" stroke="#EF787D" stroke-width="0.4"/>
<polyline points="40.2,797.8 43.9,798.5 47.6,799.2 51.3,799.9 55.0,800.5 58.7,801.2 62.4,801.9 66.1,802.5 69.8,803.2 73.5,803.8 77.2,804.4 80.8,805.1 84.5,805.7 88.2,806.3 91.9,806.9 95.6,807.5 99.3,808.1 103.0,808.7 106.7,809.3 110.4,809.8 114.1,810.4 117.8,811.0 121.5,811.5 125.2,812.1 128.9,812.6 132.6,813.1 136.3,813.7 140.0,814.2 143.7,814.7 147.4,815.2 151.1,815.7 154.7,816.2 158.4,816.7 162.1,817.2 165.8,817.6 169.5,818.1 173.2,818.6 176.9,819.0 180.6,819.5 184.3,819.9 188.0,820.3 191.7,820.8 195.4,821.2 199.1,821.6 202.8,822.0 206.5,822.4 210.2,822.8 213.9,823.2 217.6,823.6 221.3,824.0 224.9,824.4 228.6,824.7 232.3,825.1 236.0,825.4 239.7,825.8 243.4,826.1 247.1,826.4 250.8,826.8 254.5,827.1 258.2,827.4 261.9,827.7 265.6,828.0 269.3,828.3 273.0,828.6 276.7,828.9 280.4,829.2 284.1,829.4 287.8,829.7 291.5,830.0 295.2,830.2 298.9,830.5 302.5,830.7 306.2,830.9 309.9,831.2 313.6,831.4 317.3,831.6 321.0,831.8 324.7,832.0 328.4,832.2 332.1,832.4 335.8,832.6" fill="none" stroke="#111" stroke-width="1.1" stroke-dasharray="4.2 1.8"/>
<polyline points="40.2,766.2 43.9,767.0 47.6,767.7 51.3,768.5 55.0,769.2 58.7,769.9 62.4,770.7 66.1,771.4 69.8,772.2 73.5,772.9 77.2,773.6 80.8,774.4 84.5,775.1 88.2,775.9 91.9,776.6 95.6,777.3 99.3,778.1 103.0,778.8 106.7,779.5 110.4,780.2 114.1,781.0 117.8,781.7 121.5,782.4 125.2,783.1 128.9,783.8 132.6,784.6 136.3,785.3 140.0,786.0 143.7,786.7 147.4,787.4 151.1,788.1 154.7,788.8 158.4,789.4 162.1,790.1 165.8,790.8 169.5,791.5 173.2,792.1 176.9,792.8 180.6,793.5 184.3,794.1 188.0,794.8 191.7,795.4 195.4,796.1 199.1,796.7 202.8,797.3 206.5,798.0 210.2,798.6 213.9,799.2 217.6,799.8 221.3,800.4 224.9,801.0 228.6,801.6 232.3,802.2 236.0,802.8 239.7,803.3 243.4,803.9 247.1,804.4 250.8,805.0 254.5,805.5 258.2,806.1 261.9,806.6 265.6,807.1 269.3,807.6 273.0,808.1 276.7,808.6 280.4,809.1 284.1,809.6 287.8,810.0 291.5,810.5 295.2,811.0 298.9,811.4 302.5,811.8 306.2,812.3 309.9,812.7 313.6,813.1 317.3,813.5 321.0,813.9 324.7,814.2 328.4,814.6 332.1,815.0 335.8,815.3" fill="none" stroke="#111" stroke-width="1.1" stroke-dasharray="4.2 1.8"/>
<polyline points="40.2,700.1 43.9,701.6 47.6,703.1 51.3,704.7 55.0,706.2 58.7,707.7 62.4,709.2 66.1,710.7 69.8,712.2 73.5,713.7 77.2,715.2 80.8,716.6 84.5,718.1 88.2,719.5 91.9,721.0 95.6,722.4 99.3,723.9 103.0,725.3 106.7,726.7 110.4,728.1 114.1,729.5 117.8,730.9 121.5,732.3 125.2,733.7 128.9,735.0 132.6,736.4 136.3,737.8 140.0,739.1 143.7,740.4 147.4,741.8 151.1,743.1 154.7,744.4 158.4,745.7 162.1,747.0 165.8,748.2 169.5,749.5 173.2,750.8 176.9,752.0 180.6,753.3 184.3,754.5 188.0,755.7 191.7,756.9 195.4,758.1 199.1,759.3 202.8,760.5 206.5,761.7 210.2,762.8 213.9,764.0 217.6,765.1 221.3,766.2 224.9,767.4 228.6,768.5 232.3,769.6 236.0,770.6 239.7,771.7 243.4,772.8 247.1,773.8 250.8,774.9 254.5,775.9 258.2,776.9 261.9,777.9 265.6,778.9 269.3,779.9 273.0,780.8 276.7,781.8 280.4,782.7 284.1,783.7 287.8,784.6 291.5,785.5 295.2,786.4 298.9,787.2 302.5,788.1 306.2,789.0 309.9,789.8 313.6,790.6 317.3,791.4 321.0,792.2 324.7,793.0 328.4,793.8 332.1,794.6 335.8,795.3" fill="none" stroke="#111" stroke-width="1.1" stroke-dasharray="4.2 1.8"/>
<polyline points="40.2,604.1 43.9,605.7 47.6,607.3 51.3,608.9 55.0,610.5 58.7,612.1 62.4,613.8 66.1,615.4 69.8,617.1 73.5,618.7 77.2,620.4 80.8,622.0 84.5,623.7 88.2,625.4 91.9,627.1 95.6,628.8 99.3,630.5 103.0,632.2 106.7,633.9 110.4,635.6 114.1,637.3 117.8,639.0 121.5,640.7 125.2,642.4 128.9,644.1 132.6,645.8 136.3,647.5 140.0,649.2 143.7,650.9 147.4,652.6 151.1,654.3 154.7,656.0 158.4,657.7 162.1,659.4 165.8,661.1 169.5,662.8 173.2,664.5 176.9,666.1 180.6,667.8 184.3,669.5 188.0,671.1 191.7,672.8 195.4,674.4 199.1,676.1 202.8,677.7 206.5,679.3 210.2,680.9 213.9,682.6 217.6,684.2 221.3,685.7 224.9,687.3 228.6,688.9 232.3,690.5 236.0,692.0 239.7,693.5 243.4,695.1 247.1,696.6 250.8,698.1 254.5,699.6 258.2,701.0 261.9,702.5 265.6,703.9 269.3,705.4 273.0,706.8 276.7,708.2 280.4,709.5 284.1,710.9 287.8,712.3 291.5,713.6 295.2,714.9 298.9,716.2 302.5,717.5 306.2,718.7 309.9,720.0 313.6,721.2 317.3,722.4 321.0,723.6 324.7,724.7 328.4,725.9 332.1,727.0 335.8,728.1" fill="none" stroke="#111" stroke-width="1.1" stroke-dasharray="4.2 1.8"/>
<line x1="40.20" y1="595.82" x2="40.20" y2="840.90" stroke="#000" stroke-width="2.2"/>
<line x1="39.10" y1="839.30" x2="336.90" y2="839.30" stroke="#000" stroke-width="2.1"/>
<line x1="34.80" y1="839.60" x2="40.20" y2="839.60" stroke="#000" stroke-width="1.8"/>
<text x="31.60" y="843.45" text-anchor="end" font-size="10.8" font-family="Liberation Sans, sans-serif" textLength="5.6" lengthAdjust="spacingAndGlyphs" fill="#0a0a0a" stroke="#0a0a0a" stroke-width="0.25">0</text>
<line x1="34.80" y1="817.52" x2="40.20" y2="817.52" stroke="#000" stroke-width="1.8"/>
<text x="31.60" y="821.37" text-anchor="end" font-size="10.8" font-family="Liberation Sans, sans-serif" textLength="5.6" lengthAdjust="spacingAndGlyphs" fill="#0a0a0a" stroke="#0a0a0a" stroke-width="0.25">3</text>
<line x1="34.80" y1="795.44" x2="40.20" y2="795.44" stroke="#000" stroke-width="1.8"/>
<text x="31.60" y="799.29" text-anchor="end" font-size="10.8" font-family="Liberation Sans, sans-serif" textLength="5.6" lengthAdjust="spacingAndGlyphs" fill="#0a0a0a" stroke="#0a0a0a" stroke-width="0.25">6</text>
<line x1="34.80" y1="773.36" x2="40.20" y2="773.36" stroke="#000" stroke-width="1.8"/>
<text x="31.60" y="777.21" text-anchor="end" font-size="10.8" font-family="Liberation Sans, sans-serif" textLength="5.6" lengthAdjust="spacingAndGlyphs" fill="#0a0a0a" stroke="#0a0a0a" stroke-width="0.25">9</text>
<line x1="34.80" y1="751.28" x2="40.20" y2="751.28" stroke="#000" stroke-width="1.8"/>
<text x="31.60" y="755.13" text-anchor="end" font-size="10.8" font-family="Liberation Sans, sans-serif" textLength="11.7" lengthAdjust="spacingAndGlyphs" fill="#0a0a0a" stroke="#0a0a0a" stroke-width="0.25">12</text>
<line x1="34.80" y1="729.20" x2="40.20" y2="729.20" stroke="#000" stroke-width="1.8"/>
<text x="31.60" y="733.05" text-anchor="end" font-size="10.8" font-family="Liberation Sans, sans-serif" textLength="11.7" lengthAdjust="spacingAndGlyphs" fill="#0a0a0a" stroke="#0a0a0a" stroke-width="0.25">15</text>
<line x1="34.80" y1="707.12" x2="40.20" y2="707.12" stroke="#000" stroke-width="1.8"/>
<text x="31.60" y="710.97" text-anchor="end" font-size="10.8" font-family="Liberation Sans, sans-serif" textLength="11.7" lengthAdjust="spacingAndGlyphs" fill="#0a0a0a" stroke="#0a0a0a" stroke-width="0.25">18</text>
<line x1="34.80" y1="685.04" x2="40.20" y2="685.04" stroke="#000" stroke-width="1.8"/>
<text x="31.60" y="688.89" text-anchor="end" font-size="10.8" font-family="Liberation Sans, sans-serif" textLength="11.7" lengthAdjust="spacingAndGlyphs" fill="#0a0a0a" stroke="#0a0a0a" stroke-width="0.25">21</text>
<line x1="34.80" y1="662.96" x2="40.20" y2="662.96" stroke="#000" stroke-width="1.8"/>
<text x="31.60" y="666.81" text-anchor="end" font-size="10.8" font-family="Liberation Sans, sans-serif" textLength="11.7" lengthAdjust="spacingAndGlyphs" fill="#0a0a0a" stroke="#0a0a0a" stroke-width="0.25">24</text>
<line x1="34.80" y1="640.88" x2="40.20" y2="640.88" stroke="#000" stroke-width="1.8"/>
<text x="31.60" y="644.73" text-anchor="end" font-size="10.8" font-family="Liberation Sans, sans-serif" textLength="11.7" lengthAdjust="spacingAndGlyphs" fill="#0a0a0a" stroke="#0a0a0a" stroke-width="0.25">27</text>
<line x1="34.80" y1="618.80" x2="40.20" y2="618.80" stroke="#000" stroke-width="1.8"/>
<text x="31.60" y="622.65" text-anchor="end" font-size="10.8" font-family="Liberation Sans, sans-serif" textLength="11.7" lengthAdjust="spacingAndGlyphs" fill="#0a0a0a" stroke="#0a0a0a" stroke-width="0.25">30</text>
<line x1="34.80" y1="596.72" x2="40.20" y2="596.72" stroke="#000" stroke-width="1.8"/>
<text x="31.60" y="600.57" text-anchor="end" font-size="10.8" font-family="Liberation Sans, sans-serif" textLength="11.7" lengthAdjust="spacingAndGlyphs" fill="#0a0a0a" stroke="#0a0a0a" stroke-width="0.25">33</text>
<line x1="40.20" y1="839.60" x2="40.20" y2="844.30" stroke="#000" stroke-width="1.9"/>
<text x="39.90" y="855.90" text-anchor="middle" font-size="11.200000000000001" font-family="Liberation Sans, sans-serif" textLength="11.6" lengthAdjust="spacingAndGlyphs" fill="#0a0a0a" stroke="#0a0a0a" stroke-width="0.25">50</text>
<line x1="99.38" y1="839.60" x2="99.38" y2="844.30" stroke="#000" stroke-width="1.9"/>
<text x="99.08" y="855.90" text-anchor="middle" font-size="11.200000000000001" font-family="Liberation Sans, sans-serif" textLength="11.6" lengthAdjust="spacingAndGlyphs" fill="#0a0a0a" stroke="#0a0a0a" stroke-width="0.25">54</text>
<line x1="158.56" y1="839.60" x2="158.56" y2="844.30" stroke="#000" stroke-width="1.9"/>
<text x="158.26" y="855.90" text-anchor="middle" font-size="11.200000000000001" font-family="Liberation Sans, sans-serif" textLength="11.6" lengthAdjust="spacingAndGlyphs" fill="#0a0a0a" stroke="#0a0a0a" stroke-width="0.25">58</text>
<line x1="217.74" y1="839.60" x2="217.74" y2="844.30" stroke="#000" stroke-width="1.9"/>
<text x="217.44" y="855.90" text-anchor="middle" font-size="11.200000000000001" font-family="Liberation Sans, sans-serif" textLength="11.6" lengthAdjust="spacingAndGlyphs" fill="#0a0a0a" stroke="#0a0a0a" stroke-width="0.25">62</text>
<line x1="276.92" y1="839.60" x2="276.92" y2="844.30" stroke="#000" stroke-width="1.9"/>
<text x="276.62" y="855.90" text-anchor="middle" font-size="11.200000000000001" font-family="Liberation Sans, sans-serif" textLength="11.6" lengthAdjust="spacingAndGlyphs" fill="#0a0a0a" stroke="#0a0a0a" stroke-width="0.25">66</text>
<line x1="336.10" y1="839.60" x2="336.10" y2="844.30" stroke="#000" stroke-width="1.9"/>
<text x="335.80" y="855.90" text-anchor="middle" font-size="11.200000000000001" font-family="Liberation Sans, sans-serif" textLength="11.6" lengthAdjust="spacingAndGlyphs" fill="#0a0a0a" stroke="#0a0a0a" stroke-width="0.25">70</text>
<text transform="translate(14.6,717.00) rotate(-90)" text-anchor="middle" font-size="10.2" font-family="Liberation Sans, sans-serif" textLength="106" lengthAdjust="spacingAndGlyphs" fill="#0a0a0a" stroke="#0a0a0a" stroke-width="0.25">Life expectancy (years)</text>
<polygon points="389.0,796.4 392.6,796.8 396.2,797.2 399.9,797.6 403.5,798.0 407.1,798.4 410.7,798.8 414.4,799.2 418.0,799.6 421.6,800.0 425.2,800.4 428.8,800.8 432.5,801.2 436.1,801.6 439.7,802.0 443.3,802.4 447.0,802.8 450.6,803.2 454.2,803.6 457.8,804.0 461.5,804.4 465.1,804.8 468.7,805.2 472.3,805.6 475.9,806.0 479.6,806.4 483.2,806.8 486.8,807.1 490.4,807.5 494.1,807.9 497.7,808.3 501.3,808.7 504.9,809.1 508.5,809.4 512.2,809.8 515.8,810.2 519.4,810.6 523.0,810.9 526.7,811.3 530.3,811.7 533.9,812.0 537.5,812.4 541.1,812.8 544.8,813.1 548.4,813.5 552.0,813.8 555.6,814.2 559.3,814.5 562.9,814.9 566.5,815.2 570.1,815.5 573.7,815.9 577.4,816.2 581.0,816.5 584.6,816.9 588.2,817.2 591.9,817.5 595.5,817.8 599.1,818.1 602.7,818.4 606.4,818.7 610.0,819.0 613.6,819.3 617.2,819.6 620.8,819.9 624.5,820.2 628.1,820.5 631.7,820.8 635.3,821.0 639.0,821.3 642.6,821.6 646.2,821.8 649.8,822.1 653.4,822.3 657.1,822.6 660.7,822.8 664.3,823.0 667.9,823.3 671.6,823.5 675.2,823.7 678.8,823.9 678.8,839.6 675.2,839.6 671.6,839.6 667.9,839.6 664.3,839.6 660.7,839.6 657.1,839.6 653.4,839.6 649.8,839.6 646.2,839.6 642.6,839.6 639.0,839.6 635.3,839.6 631.7,839.6 628.1,839.6 624.5,839.6 620.8,839.6 617.2,839.6 613.6,839.6 610.0,839.6 606.4,839.6 602.7,839.6 599.1,839.6 595.5,839.6 591.9,839.6 588.2,839.6 584.6,839.6 581.0,839.6 577.4,839.6 573.7,839.6 570.1,839.6 566.5,839.6 562.9,839.6 559.3,839.6 555.6,839.6 552.0,839.6 548.4,839.6 544.8,839.6 541.1,839.6 537.5,839.6 533.9,839.6 530.3,839.6 526.7,839.6 523.0,839.6 519.4,839.6 515.8,839.6 512.2,839.6 508.5,839.6 504.9,839.6 501.3,839.6 497.7,839.6 494.1,839.6 490.4,839.6 486.8,839.6 483.2,839.6 479.6,839.6 475.9,839.6 472.3,839.6 468.7,839.6 465.1,839.6 461.5,839.6 457.8,839.6 454.2,839.6 450.6,839.6 447.0,839.6 443.3,839.6 439.7,839.6 436.1,839.6 432.5,839.6 428.8,839.6 425.2,839.6 421.6,839.6 418.0,839.6 414.4,839.6 410.7,839.6 407.1,839.6 403.5,839.6 399.9,839.6 396.2,839.6 392.6,839.6 389.0,839.6" fill="#3478C3" stroke="#3478C3" stroke-width="0.4"/>
<polygon points="389.0,762.9 392.6,763.3 396.2,763.6 399.9,763.9 403.5,764.3 407.1,764.6 410.7,764.9 414.4,765.2 418.0,765.6 421.6,765.9 425.2,766.2 428.8,766.5 432.5,766.8 436.1,767.1 439.7,767.4 443.3,767.7 447.0,768.1 450.6,768.4 454.2,768.7 457.8,769.0 461.5,769.3 465.1,769.6 468.7,769.9 472.3,770.2 475.9,770.5 479.6,770.8 483.2,771.1 486.8,771.3 490.4,771.6 494.1,771.9 497.7,772.2 501.3,772.5 504.9,772.8 508.5,773.1 512.2,773.4 515.8,773.6 519.4,773.9 523.0,774.2 526.7,774.5 530.3,774.8 533.9,775.0 537.5,775.3 541.1,775.6 544.8,775.9 548.4,776.1 552.0,776.4 555.6,776.7 559.3,776.9 562.9,777.2 566.5,777.5 570.1,777.8 573.7,778.0 577.4,778.3 581.0,778.6 584.6,778.8 588.2,779.1 591.9,779.3 595.5,779.6 599.1,779.9 602.7,780.1 606.4,780.4 610.0,780.7 613.6,780.9 617.2,781.2 620.8,781.4 624.5,781.7 628.1,781.9 631.7,782.2 635.3,782.5 639.0,782.7 642.6,783.0 646.2,783.2 649.8,783.5 653.4,783.7 657.1,784.0 660.7,784.3 664.3,784.5 667.9,784.8 671.6,785.0 675.2,785.3 678.8,785.5 678.8,823.9 675.2,823.7 671.6,823.5 667.9,823.3 664.3,823.0 660.7,822.8 657.1,822.6 653.4,822.3 649.8,822.1 646.2,821.8 642.6,821.6 639.0,821.3 635.3,821.0 631.7,820.8 628.1,820.5 624.5,820.2 620.8,819.9 617.2,819.6 613.6,819.3 610.0,819.0 606.4,818.7 602.7,818.4 599.1,818.1 595.5,817.8 591.9,817.5 588.2,817.2 584.6,816.9 581.0,816.5 577.4,816.2 573.7,815.9 570.1,815.5 566.5,815.2 562.9,814.9 559.3,814.5 555.6,814.2 552.0,813.8 548.4,813.5 544.8,813.1 541.1,812.8 537.5,812.4 533.9,812.0 530.3,811.7 526.7,811.3 523.0,810.9 519.4,810.6 515.8,810.2 512.2,809.8 508.5,809.4 504.9,809.1 501.3,808.7 497.7,808.3 494.1,807.9 490.4,807.5 486.8,807.1 483.2,806.8 479.6,806.4 475.9,806.0 472.3,805.6 468.7,805.2 465.1,804.8 461.5,804.4 457.8,804.0 454.2,803.6 450.6,803.2 447.0,802.8 443.3,802.4 439.7,802.0 436.1,801.6 432.5,801.2 428.8,800.8 425.2,800.4 421.6,800.0 418.0,799.6 414.4,799.2 410.7,798.8 407.1,798.4 403.5,798.0 399.9,797.6 396.2,797.2 392.6,796.8 389.0,796.4" fill="#76B9E7" stroke="#76B9E7" stroke-width="0.4"/>
<polygon points="389.0,695.9 392.6,696.4 396.2,696.9 399.9,697.4 403.5,697.9 407.1,698.4 410.7,699.0 414.4,699.5 418.0,700.0 421.6,700.5 425.2,701.0 428.8,701.6 432.5,702.1 436.1,702.6 439.7,703.2 443.3,703.7 447.0,704.3 450.6,704.8 454.2,705.4 457.8,705.9 461.5,706.5 465.1,707.1 468.7,707.6 472.3,708.2 475.9,708.8 479.6,709.4 483.2,709.9 486.8,710.5 490.4,711.1 494.1,711.7 497.7,712.3 501.3,712.9 504.9,713.4 508.5,714.0 512.2,714.6 515.8,715.2 519.4,715.8 523.0,716.4 526.7,717.0 530.3,717.6 533.9,718.2 537.5,718.8 541.1,719.4 544.8,720.1 548.4,720.7 552.0,721.3 555.6,721.9 559.3,722.5 562.9,723.1 566.5,723.7 570.1,724.3 573.7,724.9 577.4,725.6 581.0,726.2 584.6,726.8 588.2,727.4 591.9,728.0 595.5,728.6 599.1,729.3 602.7,729.9 606.4,730.5 610.0,731.1 613.6,731.7 617.2,732.3 620.8,732.9 624.5,733.6 628.1,734.2 631.7,734.8 635.3,735.4 639.0,736.0 642.6,736.6 646.2,737.2 649.8,737.8 653.4,738.4 657.1,739.0 660.7,739.6 664.3,740.2 667.9,740.8 671.6,741.4 675.2,742.0 678.8,742.6 678.8,785.5 675.2,785.3 671.6,785.0 667.9,784.8 664.3,784.5 660.7,784.3 657.1,784.0 653.4,783.7 649.8,783.5 646.2,783.2 642.6,783.0 639.0,782.7 635.3,782.5 631.7,782.2 628.1,781.9 624.5,781.7 620.8,781.4 617.2,781.2 613.6,780.9 610.0,780.7 606.4,780.4 602.7,780.1 599.1,779.9 595.5,779.6 591.9,779.3 588.2,779.1 584.6,778.8 581.0,778.6 577.4,778.3 573.7,778.0 570.1,777.8 566.5,777.5 562.9,777.2 559.3,776.9 555.6,776.7 552.0,776.4 548.4,776.1 544.8,775.9 541.1,775.6 537.5,775.3 533.9,775.0 530.3,774.8 526.7,774.5 523.0,774.2 519.4,773.9 515.8,773.6 512.2,773.4 508.5,773.1 504.9,772.8 501.3,772.5 497.7,772.2 494.1,771.9 490.4,771.6 486.8,771.3 483.2,771.1 479.6,770.8 475.9,770.5 472.3,770.2 468.7,769.9 465.1,769.6 461.5,769.3 457.8,769.0 454.2,768.7 450.6,768.4 447.0,768.1 443.3,767.7 439.7,767.4 436.1,767.1 432.5,766.8 428.8,766.5 425.2,766.2 421.6,765.9 418.0,765.6 414.4,765.2 410.7,764.9 407.1,764.6 403.5,764.3 399.9,763.9 396.2,763.6 392.6,763.3 389.0,762.9" fill="#E81E2B" stroke="#E81E2B" stroke-width="0.4"/>
<polygon points="389.0,596.0 392.6,596.0 396.2,596.0 399.9,596.0 403.5,596.0 407.1,596.0 410.7,596.0 414.4,596.0 418.0,596.0 421.6,596.0 425.2,596.0 428.8,596.0 432.5,596.0 436.1,596.0 439.7,596.0 443.3,596.0 447.0,596.0 450.6,596.0 454.2,596.0 457.8,596.0 461.5,596.0 465.1,596.0 468.7,596.0 472.3,596.0 475.9,596.0 479.6,596.0 483.2,596.0 486.8,596.0 490.4,596.0 494.1,596.0 497.7,596.0 501.3,596.0 504.9,596.0 508.5,596.0 512.2,596.0 515.8,596.0 519.4,596.0 523.0,596.0 526.7,596.0 530.3,596.0 533.9,596.0 537.5,596.0 541.1,596.0 544.8,596.0 548.4,596.0 552.0,596.0 555.6,596.0 559.3,596.0 562.9,596.0 566.5,596.0 570.1,596.0 573.7,596.0 577.4,596.0 581.0,596.0 584.6,596.0 588.2,596.0 591.9,596.0 595.5,596.0 599.1,596.0 602.7,596.0 606.4,596.0 610.0,596.0 613.6,596.0 617.2,596.0 620.8,596.0 624.5,596.0 628.1,596.0 631.7,596.0 635.3,596.0 639.0,596.0 642.6,596.0 646.2,596.0 649.8,596.0 653.4,596.0 657.1,596.0 660.7,596.0 664.3,596.0 667.9,596.0 671.6,596.0 675.2,596.0 678.8,596.0 678.8,742.6 675.2,742.0 671.6,741.4 667.9,740.8 664.3,740.2 660.7,739.6 657.1,739.0 653.4,738.4 649.8,737.8 646.2,737.2 642.6,736.6 639.0,736.0 635.3,735.4 631.7,734.8 628.1,734.2 624.5,733.6 620.8,732.9 617.2,732.3 613.6,731.7 610.0,731.1 606.4,730.5 602.7,729.9 599.1,729.3 595.5,728.6 591.9,728.0 588.2,727.4 584.6,726.8 581.0,726.2 577.4,725.6 573.7,724.9 570.1,724.3 566.5,723.7 562.9,723.1 559.3,722.5 555.6,721.9 552.0,721.3 548.4,720.7 544.8,720.1 541.1,719.4 537.5,718.8 533.9,718.2 530.3,717.6 526.7,717.0 523.0,716.4 519.4,715.8 515.8,715.2 512.2,714.6 508.5,714.0 504.9,713.4 501.3,712.9 497.7,712.3 494.1,711.7 490.4,711.1 486.8,710.5 483.2,709.9 479.6,709.4 475.9,708.8 472.3,708.2 468.7,707.6 465.1,707.1 461.5,706.5 457.8,705.9 454.2,705.4 450.6,704.8 447.0,704.3 443.3,703.7 439.7,703.2 436.1,702.6 432.5,702.1 428.8,701.6 425.2,701.0 421.6,700.5 418.0,700.0 414.4,699.5 410.7,699.0 407.1,698.4 403.5,697.9 399.9,697.4 396.2,696.9 392.6,696.4 389.0,695.9" fill="#EF787D" stroke="#EF787D" stroke-width="0.4"/>
<polyline points="389.0,796.4 392.6,796.8 396.2,797.2 399.9,797.6 403.5,798.0 407.1,798.4 410.7,798.8 414.4,799.2 418.0,799.6 421.6,800.0 425.2,800.4 428.8,800.8 432.5,801.2 436.1,801.6 439.7,802.0 443.3,802.4 447.0,802.8 450.6,803.2 454.2,803.6 457.8,804.0 461.5,804.4 465.1,804.8 468.7,805.2 472.3,805.6 475.9,806.0 479.6,806.4 483.2,806.8 486.8,807.1 490.4,807.5 494.1,807.9 497.7,808.3 501.3,808.7 504.9,809.1 508.5,809.4 512.2,809.8 515.8,810.2 519.4,810.6 523.0,810.9 526.7,811.3 530.3,811.7 533.9,812.0 537.5,812.4 541.1,812.8 544.8,813.1 548.4,813.5 552.0,813.8 555.6,814.2 559.3,814.5 562.9,814.9 566.5,815.2 570.1,815.5 573.7,815.9 577.4,816.2 581.0,816.5 584.6,816.9 588.2,817.2 591.9,817.5 595.5,817.8 599.1,818.1 602.7,818.4 606.4,818.7 610.0,819.0 613.6,819.3 617.2,819.6 620.8,819.9 624.5,820.2 628.1,820.5 631.7,820.8 635.3,821.0 639.0,821.3 642.6,821.6 646.2,821.8 649.8,822.1 653.4,822.3 657.1,822.6 660.7,822.8 664.3,823.0 667.9,823.3 671.6,823.5 675.2,823.7 678.8,823.9" fill="none" stroke="#111" stroke-width="1.1" stroke-dasharray="4.2 1.8"/>
<polyline points="389.0,762.9 392.6,763.3 396.2,763.6 399.9,763.9 403.5,764.3 407.1,764.6 410.7,764.9 414.4,765.2 418.0,765.6 421.6,765.9 425.2,766.2 428.8,766.5 432.5,766.8 436.1,767.1 439.7,767.4 443.3,767.7 447.0,768.1 450.6,768.4 454.2,768.7 457.8,769.0 461.5,769.3 465.1,769.6 468.7,769.9 472.3,770.2 475.9,770.5 479.6,770.8 483.2,771.1 486.8,771.3 490.4,771.6 494.1,771.9 497.7,772.2 501.3,772.5 504.9,772.8 508.5,773.1 512.2,773.4 515.8,773.6 519.4,773.9 523.0,774.2 526.7,774.5 530.3,774.8 533.9,775.0 537.5,775.3 541.1,775.6 544.8,775.9 548.4,776.1 552.0,776.4 555.6,776.7 559.3,776.9 562.9,777.2 566.5,777.5 570.1,777.8 573.7,778.0 577.4,778.3 581.0,778.6 584.6,778.8 588.2,779.1 591.9,779.3 595.5,779.6 599.1,779.9 602.7,780.1 606.4,780.4 610.0,780.7 613.6,780.9 617.2,781.2 620.8,781.4 624.5,781.7 628.1,781.9 631.7,782.2 635.3,782.5 639.0,782.7 642.6,783.0 646.2,783.2 649.8,783.5 653.4,783.7 657.1,784.0 660.7,784.3 664.3,784.5 667.9,784.8 671.6,785.0 675.2,785.3 678.8,785.5" fill="none" stroke="#111" stroke-width="1.1" stroke-dasharray="4.2 1.8"/>
<polyline points="389.0,695.9 392.6,696.4 396.2,696.9 399.9,697.4 403.5,697.9 407.1,698.4 410.7,699.0 414.4,699.5 418.0,700.0 421.6,700.5 425.2,701.0 428.8,701.6 432.5,702.1 436.1,702.6 439.7,703.2 443.3,703.7 447.0,704.3 450.6,704.8 454.2,705.4 457.8,705.9 461.5,706.5 465.1,707.1 468.7,707.6 472.3,708.2 475.9,708.8 479.6,709.4 483.2,709.9 486.8,710.5 490.4,711.1 494.1,711.7 497.7,712.3 501.3,712.9 504.9,713.4 508.5,714.0 512.2,714.6 515.8,715.2 519.4,715.8 523.0,716.4 526.7,717.0 530.3,717.6 533.9,718.2 537.5,718.8 541.1,719.4 544.8,720.1 548.4,720.7 552.0,721.3 555.6,721.9 559.3,722.5 562.9,723.1 566.5,723.7 570.1,724.3 573.7,724.9 577.4,725.6 581.0,726.2 584.6,726.8 588.2,727.4 591.9,728.0 595.5,728.6 599.1,729.3 602.7,729.9 606.4,730.5 610.0,731.1 613.6,731.7 617.2,732.3 620.8,732.9 624.5,733.6 628.1,734.2 631.7,734.8 635.3,735.4 639.0,736.0 642.6,736.6 646.2,737.2 649.8,737.8 653.4,738.4 657.1,739.0 660.7,739.6 664.3,740.2 667.9,740.8 671.6,741.4 675.2,742.0 678.8,742.6" fill="none" stroke="#111" stroke-width="1.1" stroke-dasharray="4.2 1.8"/>
<polyline points="389.0,596.0 392.6,596.0 396.2,596.0 399.9,596.0 403.5,596.0 407.1,596.0 410.7,596.0 414.4,596.0 418.0,596.0 421.6,596.0 425.2,596.0 428.8,596.0 432.5,596.0 436.1,596.0 439.7,596.0 443.3,596.0 447.0,596.0 450.6,596.0 454.2,596.0 457.8,596.0 461.5,596.0 465.1,596.0 468.7,596.0 472.3,596.0 475.9,596.0 479.6,596.0 483.2,596.0 486.8,596.0 490.4,596.0 494.1,596.0 497.7,596.0 501.3,596.0 504.9,596.0 508.5,596.0 512.2,596.0 515.8,596.0 519.4,596.0 523.0,596.0 526.7,596.0 530.3,596.0 533.9,596.0 537.5,596.0 541.1,596.0 544.8,596.0 548.4,596.0 552.0,596.0 555.6,596.0 559.3,596.0 562.9,596.0 566.5,596.0 570.1,596.0 573.7,596.0 577.4,596.0 581.0,596.0 584.6,596.0 588.2,596.0 591.9,596.0 595.5,596.0 599.1,596.0 602.7,596.0 606.4,596.0 610.0,596.0 613.6,596.0 617.2,596.0 620.8,596.0 624.5,596.0 628.1,596.0 631.7,596.0 635.3,596.0 639.0,596.0 642.6,596.0 646.2,596.0 649.8,596.0 653.4,596.0 657.1,596.0 660.7,596.0 664.3,596.0 667.9,596.0 671.6,596.0 675.2,596.0 678.8,596.0" fill="none" stroke="#a84e58" stroke-width="1" stroke-dasharray="4.2 1.8"/>
<line x1="389.00" y1="595.10" x2="389.00" y2="840.90" stroke="#000" stroke-width="2.2"/>
<line x1="387.90" y1="839.30" x2="679.90" y2="839.30" stroke="#000" stroke-width="2.1"/>
<line x1="383.60" y1="839.60" x2="389.00" y2="839.60" stroke="#000" stroke-width="1.8"/>
<text x="380.40" y="843.45" text-anchor="end" font-size="10.8" font-family="Liberation Sans, sans-serif" textLength="5.6" lengthAdjust="spacingAndGlyphs" fill="#0a0a0a" stroke="#0a0a0a" stroke-width="0.25">0</text>
<line x1="383.60" y1="790.88" x2="389.00" y2="790.88" stroke="#000" stroke-width="1.8"/>
<text x="380.40" y="794.73" text-anchor="end" font-size="10.8" font-family="Liberation Sans, sans-serif" textLength="11.7" lengthAdjust="spacingAndGlyphs" fill="#0a0a0a" stroke="#0a0a0a" stroke-width="0.25">20</text>
<line x1="383.60" y1="742.16" x2="389.00" y2="742.16" stroke="#000" stroke-width="1.8"/>
<text x="380.40" y="746.01" text-anchor="end" font-size="10.8" font-family="Liberation Sans, sans-serif" textLength="11.7" lengthAdjust="spacingAndGlyphs" fill="#0a0a0a" stroke="#0a0a0a" stroke-width="0.25">40</text>
<line x1="383.60" y1="693.44" x2="389.00" y2="693.44" stroke="#000" stroke-width="1.8"/>
<text x="380.40" y="697.29" text-anchor="end" font-size="10.8" font-family="Liberation Sans, sans-serif" textLength="11.7" lengthAdjust="spacingAndGlyphs" fill="#0a0a0a" stroke="#0a0a0a" stroke-width="0.25">60</text>
<line x1="383.60" y1="644.72" x2="389.00" y2="644.72" stroke="#000" stroke-width="1.8"/>
<text x="380.40" y="648.57" text-anchor="end" font-size="10.8" font-family="Liberation Sans, sans-serif" textLength="11.7" lengthAdjust="spacingAndGlyphs" fill="#0a0a0a" stroke="#0a0a0a" stroke-width="0.25">80</text>
<line x1="383.60" y1="596.00" x2="389.00" y2="596.00" stroke="#000" stroke-width="1.8"/>
<text x="380.40" y="599.85" text-anchor="end" font-size="10.8" font-family="Liberation Sans, sans-serif" textLength="17.7" lengthAdjust="spacingAndGlyphs" fill="#0a0a0a" stroke="#0a0a0a" stroke-width="0.25">100</text>
<line x1="389.00" y1="839.60" x2="389.00" y2="844.30" stroke="#000" stroke-width="1.9"/>
<text x="388.70" y="855.90" text-anchor="middle" font-size="11.200000000000001" font-family="Liberation Sans, sans-serif" textLength="11.6" lengthAdjust="spacingAndGlyphs" fill="#0a0a0a" stroke="#0a0a0a" stroke-width="0.25">50</text>
<line x1="447.02" y1="839.60" x2="447.02" y2="844.30" stroke="#000" stroke-width="1.9"/>
<text x="446.72" y="855.90" text-anchor="middle" font-size="11.200000000000001" font-family="Liberation Sans, sans-serif" textLength="11.6" lengthAdjust="spacingAndGlyphs" fill="#0a0a0a" stroke="#0a0a0a" stroke-width="0.25">54</text>
<line x1="505.04" y1="839.60" x2="505.04" y2="844.30" stroke="#000" stroke-width="1.9"/>
<text x="504.74" y="855.90" text-anchor="middle" font-size="11.200000000000001" font-family="Liberation Sans, sans-serif" textLength="11.6" lengthAdjust="spacingAndGlyphs" fill="#0a0a0a" stroke="#0a0a0a" stroke-width="0.25">58</text>
<line x1="563.06" y1="839.60" x2="563.06" y2="844.30" stroke="#000" stroke-width="1.9"/>
<text x="562.76" y="855.90" text-anchor="middle" font-size="11.200000000000001" font-family="Liberation Sans, sans-serif" textLength="11.6" lengthAdjust="spacingAndGlyphs" fill="#0a0a0a" stroke="#0a0a0a" stroke-width="0.25">62</text>
<line x1="621.08" y1="839.60" x2="621.08" y2="844.30" stroke="#000" stroke-width="1.9"/>
<text x="620.78" y="855.90" text-anchor="middle" font-size="11.200000000000001" font-family="Liberation Sans, sans-serif" textLength="11.6" lengthAdjust="spacingAndGlyphs" fill="#0a0a0a" stroke="#0a0a0a" stroke-width="0.25">66</text>
<line x1="679.10" y1="839.60" x2="679.10" y2="844.30" stroke="#000" stroke-width="1.9"/>
<text x="678.80" y="855.90" text-anchor="middle" font-size="11.200000000000001" font-family="Liberation Sans, sans-serif" textLength="11.6" lengthAdjust="spacingAndGlyphs" fill="#0a0a0a" stroke="#0a0a0a" stroke-width="0.25">70</text>
<text transform="translate(357.2,717.50) rotate(-90)" text-anchor="middle" font-size="10.2" font-family="Liberation Sans, sans-serif" textLength="71" lengthAdjust="spacingAndGlyphs" fill="#0a0a0a" stroke="#0a0a0a" stroke-width="0.25">Percentage (%)</text>
<text transform="translate(-0.8,13) scale(0.86,1)" font-size="25.5" font-weight="bold" font-family="Liberation Sans, sans-serif" fill="#000">a</text>
<text x="16.9" y="12.6" font-size="13" font-family="Liberation Sans, sans-serif" textLength="101" lengthAdjust="spacingAndGlyphs" fill="#111">Total population</text>
<text transform="translate(8.2,307) scale(0.9,1)" font-size="25" font-weight="bold" font-family="Liberation Sans, sans-serif" fill="#000">b</text>
<text x="26.6" y="307.2" font-size="13" font-family="Liberation Sans, sans-serif" textLength="27.4" lengthAdjust="spacingAndGlyphs" fill="#111">Men</text>
<text transform="translate(13.2,590) scale(0.9,1)" font-size="22" font-weight="bold" font-family="Liberation Sans, sans-serif" fill="#000">c</text>
<text x="29" y="590.2" font-size="13" font-family="Liberation Sans, sans-serif" textLength="48" lengthAdjust="spacingAndGlyphs" fill="#111">Women</text>
<text x="188" y="868" text-anchor="middle" font-size="10.6" font-family="Liberation Sans, sans-serif" textLength="54" lengthAdjust="spacingAndGlyphs" fill="#0a0a0a" stroke="#0a0a0a" stroke-width="0.25">Age (years)</text>
<text x="533" y="868" text-anchor="middle" font-size="10.6" font-family="Liberation Sans, sans-serif" textLength="54" lengthAdjust="spacingAndGlyphs" fill="#0a0a0a" stroke="#0a0a0a" stroke-width="0.25">Age (years)</text>
<rect x="46" y="883.3" width="14" height="5.5" fill="#E81E2B"/>
<rect x="46" y="901" width="14" height="5.5" fill="#3478C3"/>
<text x="65.7" y="890.7" font-size="8.8" font-family="Liberation Sans, sans-serif" textLength="140.3" lengthAdjust="spacingAndGlyphs" fill="#0a0a0a" stroke="#0a0a0a" stroke-width="0.25">Unhealthy working life expectancy</text>
<text x="65.7" y="907.7" font-size="8.8" font-family="Liberation Sans, sans-serif" textLength="132.6" lengthAdjust="spacingAndGlyphs" fill="#0a0a0a" stroke="#0a0a0a" stroke-width="0.25" xml:space="preserve">Healthy  working life expectancy</text>
<rect x="429" y="883.4" width="14" height="5.6" fill="#EF787D"/>
<rect x="430" y="902.4" width="14" height="5.6" fill="#76B9E7"/>
<text x="449.4" y="890" font-size="8.8" font-family="Liberation Sans, sans-serif" textLength="220" lengthAdjust="spacingAndGlyphs" fill="#0a0a0a" stroke="#0a0a0a" stroke-width="0.25">The number of years spent unhealthy and not in work</text>
<text x="449.4" y="910" font-size="8.8" font-family="Liberation Sans, sans-serif" textLength="210" lengthAdjust="spacingAndGlyphs" fill="#0a0a0a" stroke="#0a0a0a" stroke-width="0.25">The number of years spent healthy and not in work</text>
<rect x="191.4" y="310.2" width="0.9" height="1.2" fill="#444"/>
<rect x="227.2" y="310.2" width="0.9" height="1.2" fill="#444"/>
</svg></body></html>
